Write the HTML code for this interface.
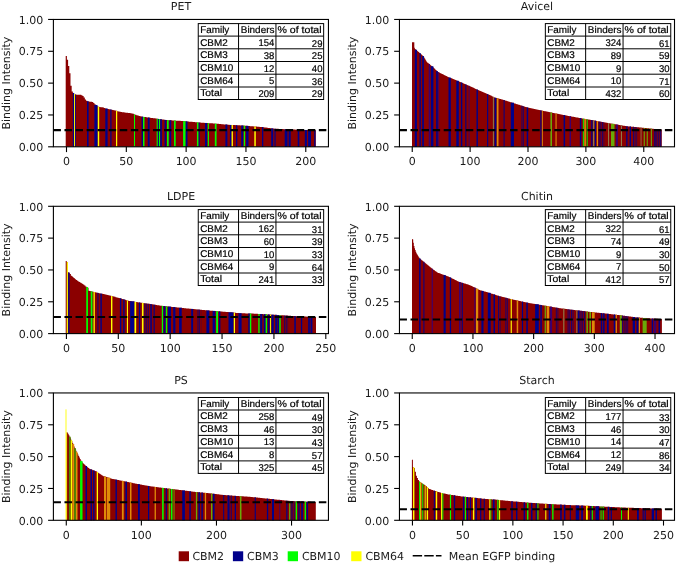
<!DOCTYPE html>
<html lang="en"><head><meta charset="utf-8"><title>Binding intensity</title>
<style>html,body{margin:0;padding:0;background:#fff;}svg{display:block;}text{font-family:"DejaVu Sans", "Liberation Sans", sans-serif;font-size:11px;fill:#1a1a1a;text-rendering:geometricPrecision;}.tb text{font-family:"Liberation Sans", "DejaVu Sans", sans-serif;font-size:9.8px;fill:#000;stroke:#000;stroke-width:0.2px;}</style></head><body>
<svg width="678" height="563" viewBox="0 0 678 563">
<rect x="0" y="0" width="678" height="563" fill="#ffffff"/>
<g><!-- PET -->
<path d="M65.7,146.8 L65.7,56 L66.9,56 L66.9,59.82 L68.09,59.82 L68.09,66.06 L69.29,66.06 L69.29,73.19 L70.49,73.19 L70.49,85.67 L71.68,85.67 L71.68,91.4 L72.88,91.4 L72.88,92.93 L74.08,92.93 L74.08,94.05 L75.27,94.05 L75.27,94.61 L76.47,94.61 L76.47,94.66 L77.67,94.66 L77.67,94.72 L78.86,94.72 L78.86,94.77 L80.06,94.77 L80.06,94.83 L81.26,94.83 L81.26,95.33 L82.45,95.33 L82.45,96 L83.65,96 L83.65,97.38 L84.85,97.38 L84.85,99.58 L86.04,99.58 L86.04,100.71 L87.24,100.71 L87.24,101.31 L88.44,101.31 L88.44,101.49 L89.63,101.49 L89.63,101.67 L90.83,101.67 L90.83,101.86 L92.03,101.86 L92.03,102.04 L93.22,102.04 L93.22,102.94 L94.42,102.94 L94.42,104.15 L95.62,104.15 L95.62,105.19 L96.81,105.19 L96.81,106.23 L98.01,106.23 L98.01,106.66 L99.21,106.66 L99.21,106.98 L100.4,106.98 L100.4,107.16 L101.6,107.16 L101.6,107.33 L102.8,107.33 L102.8,107.58 L103.99,107.58 L103.99,107.99 L105.19,107.99 L105.19,108.4 L106.39,108.4 L106.39,108.66 L107.58,108.66 L107.58,108.9 L108.78,108.9 L108.78,109.14 L109.98,109.14 L109.98,109.38 L111.17,109.38 L111.17,109.65 L112.37,109.65 L112.37,109.93 L113.57,109.93 L113.57,110.21 L114.76,110.21 L114.76,110.48 L115.96,110.48 L115.96,110.79 L117.16,110.79 L117.16,111.14 L118.35,111.14 L118.35,111.48 L119.55,111.48 L119.55,111.8 L120.75,111.8 L120.75,111.97 L121.94,111.97 L121.94,112.14 L123.14,112.14 L123.14,112.31 L124.34,112.31 L124.34,112.49 L125.53,112.49 L125.53,112.66 L126.73,112.66 L126.73,112.83 L127.93,112.83 L127.93,112.98 L129.12,112.98 L129.12,113.12 L130.32,113.12 L130.32,113.26 L131.52,113.26 L131.52,113.39 L132.71,113.39 L132.71,113.85 L133.91,113.85 L133.91,114.46 L135.11,114.46 L135.11,114.84 L136.3,114.84 L136.3,115.23 L137.5,115.23 L137.5,115.62 L138.7,115.62 L138.7,116.01 L139.89,116.01 L139.89,116.33 L141.09,116.33 L141.09,116.54 L142.29,116.54 L142.29,116.76 L143.48,116.76 L143.48,116.95 L144.68,116.95 L144.68,117.12 L145.88,117.12 L145.88,117.28 L147.07,117.28 L147.07,117.44 L148.27,117.44 L148.27,117.61 L149.47,117.61 L149.47,117.77 L150.66,117.77 L150.66,117.91 L151.86,117.91 L151.86,118.05 L153.06,118.05 L153.06,118.2 L154.25,118.2 L154.25,118.37 L155.45,118.37 L155.45,118.54 L156.65,118.54 L156.65,118.72 L157.84,118.72 L157.84,118.89 L159.04,118.89 L159.04,119.06 L160.24,119.06 L160.24,119.24 L161.43,119.24 L161.43,119.41 L162.63,119.41 L162.63,119.58 L163.83,119.58 L163.83,119.76 L165.02,119.76 L165.02,119.93 L166.22,119.93 L166.22,120.08 L167.42,120.08 L167.42,120.15 L168.61,120.15 L168.61,120.22 L169.81,120.22 L169.81,120.29 L171.01,120.29 L171.01,120.36 L172.2,120.36 L172.2,120.43 L173.4,120.43 L173.4,120.5 L174.6,120.5 L174.6,120.57 L175.79,120.57 L175.79,120.64 L176.99,120.64 L176.99,120.71 L178.19,120.71 L178.19,120.78 L179.38,120.78 L179.38,120.85 L180.58,120.85 L180.58,120.92 L181.78,120.92 L181.78,120.99 L182.97,120.99 L182.97,121.06 L184.17,121.06 L184.17,121.17 L185.37,121.17 L185.37,121.28 L186.56,121.28 L186.56,121.4 L187.76,121.4 L187.76,121.51 L188.96,121.51 L188.96,121.63 L190.15,121.63 L190.15,121.74 L191.35,121.74 L191.35,121.86 L192.54,121.86 L192.54,121.97 L193.74,121.97 L193.74,122.09 L194.94,122.09 L194.94,122.2 L196.13,122.2 L196.13,122.32 L197.33,122.32 L197.33,122.43 L198.53,122.43 L198.53,122.52 L199.72,122.52 L199.72,122.6 L200.92,122.6 L200.92,122.68 L202.12,122.68 L202.12,122.75 L203.31,122.75 L203.31,122.83 L204.51,122.83 L204.51,122.91 L205.71,122.91 L205.71,122.98 L206.9,122.98 L206.9,123.06 L208.1,123.06 L208.1,123.14 L209.3,123.14 L209.3,123.21 L210.49,123.21 L210.49,123.29 L211.69,123.29 L211.69,123.37 L212.89,123.37 L212.89,123.44 L214.08,123.44 L214.08,123.53 L215.28,123.53 L215.28,123.64 L216.48,123.64 L216.48,123.74 L217.67,123.74 L217.67,123.85 L218.87,123.85 L218.87,123.96 L220.07,123.96 L220.07,124.06 L221.26,124.06 L221.26,124.17 L222.46,124.17 L222.46,124.28 L223.66,124.28 L223.66,124.38 L224.85,124.38 L224.85,124.49 L226.05,124.49 L226.05,124.6 L227.25,124.6 L227.25,124.7 L228.44,124.7 L228.44,124.81 L229.64,124.81 L229.64,124.91 L230.84,124.91 L230.84,124.96 L232.03,124.96 L232.03,125.02 L233.23,125.02 L233.23,125.07 L234.43,125.07 L234.43,125.12 L235.62,125.12 L235.62,125.18 L236.82,125.18 L236.82,125.23 L238.02,125.23 L238.02,125.29 L239.21,125.29 L239.21,125.34 L240.41,125.34 L240.41,125.4 L241.61,125.4 L241.61,125.48 L242.8,125.48 L242.8,125.58 L244,125.58 L244,125.67 L245.2,125.67 L245.2,125.77 L246.39,125.77 L246.39,125.86 L247.59,125.86 L247.59,125.95 L248.79,125.95 L248.79,126.05 L249.98,126.05 L249.98,126.14 L251.18,126.14 L251.18,126.24 L252.38,126.24 L252.38,126.33 L253.57,126.33 L253.57,126.42 L254.77,126.42 L254.77,126.52 L255.97,126.52 L255.97,126.61 L257.16,126.61 L257.16,126.7 L258.36,126.7 L258.36,126.8 L259.56,126.8 L259.56,126.89 L260.75,126.89 L260.75,126.99 L261.95,126.99 L261.95,127.09 L263.15,127.09 L263.15,127.25 L264.34,127.25 L264.34,127.41 L265.54,127.41 L265.54,127.58 L266.74,127.58 L266.74,127.74 L267.93,127.74 L267.93,127.9 L269.13,127.9 L269.13,128.06 L270.33,128.06 L270.33,128.22 L271.52,128.22 L271.52,128.38 L272.72,128.38 L272.72,128.54 L273.92,128.54 L273.92,128.63 L275.11,128.63 L275.11,128.7 L276.31,128.7 L276.31,128.76 L277.51,128.76 L277.51,128.83 L278.7,128.83 L278.7,128.9 L279.9,128.9 L279.9,128.96 L281.1,128.96 L281.1,129.03 L282.29,129.03 L282.29,129.09 L283.49,129.09 L283.49,129.16 L284.69,129.16 L284.69,129.22 L285.88,129.22 L285.88,129.29 L287.08,129.29 L287.08,129.35 L288.28,129.35 L288.28,129.42 L289.47,129.42 L289.47,129.48 L290.67,129.48 L290.67,129.52 L291.87,129.52 L291.87,129.55 L293.06,129.55 L293.06,129.59 L294.26,129.59 L294.26,129.62 L295.46,129.62 L295.46,129.66 L296.65,129.66 L296.65,129.7 L297.85,129.7 L297.85,129.73 L299.05,129.73 L299.05,129.77 L300.24,129.77 L300.24,129.8 L301.44,129.8 L301.44,129.84 L302.64,129.84 L302.64,129.87 L303.83,129.87 L303.83,129.91 L305.03,129.91 L305.03,129.94 L306.23,129.94 L306.23,129.98 L307.42,129.98 L307.42,130.01 L308.62,130.01 L308.62,130.05 L309.82,130.05 L309.82,130.09 L311.01,130.09 L311.01,130.12 L312.21,130.12 L312.21,130.16 L313.41,130.16 L313.41,130.19 L314.6,130.19 L314.6,130.23 L315.8,130.23 L315.8,146.8Z" fill="#8B0000"/>
<rect x="72.8" y="92.95" width="1.4" height="53.85" fill="#00008B"/>
<rect x="74.08" y="93.99" width="1.04" height="52.81" fill="#FFFF00"/>
<rect x="75.2" y="94.6" width="0.8" height="52.2" fill="#00008B"/>
<rect x="87" y="101.3" width="1.6" height="45.5" fill="#00008B"/>
<rect x="94.4" y="104.96" width="3.1" height="41.84" fill="#00008B"/>
<rect x="97.8" y="106.62" width="1.39" height="40.18" fill="#FFFF00"/>
<rect x="105.3" y="108.56" width="2.3" height="38.24" fill="#00008B"/>
<rect x="110.3" y="109.45" width="1.2" height="37.35" fill="#00008B"/>
<rect x="115.99" y="110.8" width="1.22" height="36" fill="#FFFF00"/>
<rect x="133.98" y="114.45" width="1.04" height="32.35" fill="#00FF00"/>
<rect x="141.6" y="116.65" width="1.3" height="30.15" fill="#00008B"/>
<rect x="143.01" y="116.91" width="1.48" height="29.89" fill="#00FF00"/>
<rect x="147.8" y="117.59" width="1.8" height="29.21" fill="#00008B"/>
<rect x="156.68" y="118.72" width="1.13" height="28.08" fill="#00FF00"/>
<rect x="157.9" y="118.88" width="1" height="27.92" fill="#00008B"/>
<rect x="158.98" y="119.05" width="1.13" height="27.75" fill="#00FF00"/>
<rect x="160.2" y="119.27" width="1.7" height="27.53" fill="#00008B"/>
<rect x="164.6" y="119.9" width="1.6" height="26.9" fill="#00008B"/>
<rect x="167.02" y="120.14" width="1.65" height="26.66" fill="#00FF00"/>
<rect x="169.5" y="120.28" width="1.7" height="26.52" fill="#00008B"/>
<rect x="174.02" y="120.55" width="1.65" height="26.25" fill="#00FF00"/>
<rect x="183.09" y="121.13" width="2.52" height="25.67" fill="#00FF00"/>
<rect x="185.8" y="121.35" width="1.7" height="25.45" fill="#00008B"/>
<rect x="196.92" y="122.41" width="1.65" height="24.39" fill="#00FF00"/>
<rect x="198.7" y="122.53" width="1" height="24.27" fill="#00008B"/>
<rect x="205" y="122.96" width="2" height="23.84" fill="#00008B"/>
<rect x="207.78" y="123.11" width="1.13" height="23.69" fill="#00FF00"/>
<rect x="214.83" y="123.62" width="1.74" height="23.18" fill="#00FF00"/>
<rect x="225.4" y="124.57" width="2" height="22.23" fill="#00008B"/>
<rect x="229.9" y="124.93" width="1.6" height="21.87" fill="#00008B"/>
<rect x="231.6" y="125" width="1.31" height="21.8" fill="#FFFF00"/>
<rect x="236" y="125.2" width="1.3" height="21.6" fill="#00008B"/>
<rect x="241.2" y="125.48" width="2" height="21.32" fill="#00008B"/>
<rect x="243.8" y="125.66" width="1.31" height="21.14" fill="#00FF00"/>
<rect x="246.1" y="125.88" width="2.4" height="20.92" fill="#00008B"/>
<rect x="254.31" y="126.49" width="1.48" height="20.31" fill="#FFFF00"/>
<rect x="262" y="127.11" width="1.3" height="19.69" fill="#00008B"/>
<rect x="271.2" y="128.39" width="2" height="18.41" fill="#00008B"/>
<rect x="274.5" y="128.66" width="1.1" height="18.14" fill="#00008B"/>
<rect x="284.7" y="129.27" width="2.8" height="17.53" fill="#00008B"/>
<rect x="288.6" y="129.46" width="2.1" height="17.34" fill="#00008B"/>
<rect x="297.7" y="129.73" width="1.6" height="17.07" fill="#00008B"/>
<rect x="304.8" y="129.95" width="2.1" height="16.85" fill="#00008B"/>
<rect x="308.1" y="130.06" width="2.9" height="16.74" fill="#00008B"/>
<rect x="314.2" y="130.22" width="1.3" height="16.58" fill="#00008B"/>
<line x1="53.4" y1="130.12" x2="328.45" y2="130.12" stroke="#000" stroke-width="2.05" stroke-dasharray="7.5 3.56"/>
<rect x="53.4" y="19.45" width="275.05" height="127.35" fill="none" stroke="#000" stroke-width="1.1"/>
<line x1="48.1" y1="19.45" x2="53.4" y2="19.45" stroke="#000" stroke-width="1.1"/>
<text x="43.3" y="23.65" text-anchor="end">1.00</text>
<line x1="48.1" y1="51.29" x2="53.4" y2="51.29" stroke="#000" stroke-width="1.1"/>
<text x="43.3" y="55.49" text-anchor="end">0.75</text>
<line x1="48.1" y1="83.12" x2="53.4" y2="83.12" stroke="#000" stroke-width="1.1"/>
<text x="43.3" y="87.33" text-anchor="end">0.50</text>
<line x1="48.1" y1="114.96" x2="53.4" y2="114.96" stroke="#000" stroke-width="1.1"/>
<text x="43.3" y="119.16" text-anchor="end">0.25</text>
<line x1="48.1" y1="146.8" x2="53.4" y2="146.8" stroke="#000" stroke-width="1.1"/>
<text x="43.3" y="151" text-anchor="end">0.00</text>
<line x1="66.5" y1="146.8" x2="66.5" y2="152.1" stroke="#000" stroke-width="1.1"/>
<text x="66.5" y="165.2" text-anchor="middle">0</text>
<line x1="126.32" y1="146.8" x2="126.32" y2="152.1" stroke="#000" stroke-width="1.1"/>
<text x="126.32" y="165.2" text-anchor="middle">50</text>
<line x1="186.14" y1="146.8" x2="186.14" y2="152.1" stroke="#000" stroke-width="1.1"/>
<text x="186.14" y="165.2" text-anchor="middle">100</text>
<line x1="245.96" y1="146.8" x2="245.96" y2="152.1" stroke="#000" stroke-width="1.1"/>
<text x="245.96" y="165.2" text-anchor="middle">150</text>
<line x1="305.78" y1="146.8" x2="305.78" y2="152.1" stroke="#000" stroke-width="1.1"/>
<text x="305.78" y="165.2" text-anchor="middle">200</text>
<text transform="translate(9.9,83.12) rotate(-90)" text-anchor="middle">Binding Intensity</text>
<text x="181" y="10.4" text-anchor="middle">PET</text>
<g class="tb">
<rect x="198.25" y="23.6" width="125.4" height="75.9" fill="#fff" stroke="#000" stroke-width="1"/>
<line x1="198.25" y1="36.1" x2="323.65" y2="36.1" stroke="#000" stroke-width="1"/>
<line x1="198.25" y1="48.8" x2="323.65" y2="48.8" stroke="#000" stroke-width="1"/>
<line x1="198.25" y1="61.5" x2="323.65" y2="61.5" stroke="#000" stroke-width="1"/>
<line x1="198.25" y1="74.2" x2="323.65" y2="74.2" stroke="#000" stroke-width="1"/>
<line x1="198.25" y1="87" x2="323.65" y2="87" stroke="#000" stroke-width="1"/>
<line x1="238.55" y1="23.6" x2="238.55" y2="99.5" stroke="#000" stroke-width="1"/>
<line x1="275.95" y1="23.6" x2="275.95" y2="99.5" stroke="#000" stroke-width="1"/>
<text transform="translate(200.15,32.8) scale(1.01,1)">Family</text>
<text transform="translate(240.75,32.8) scale(1.015,1)">Binders</text>
<text transform="translate(277.45,32.8) scale(1.08,1)">% of total</text>
<text transform="translate(200.15,45.5) scale(1.01,1)">CBM2</text>
<text transform="translate(274.25,46.1) scale(0.97,1)" text-anchor="end">154</text>
<text transform="translate(322.45,46.7) scale(0.97,1)" text-anchor="end">29</text>
<text transform="translate(200.15,58.2) scale(1.01,1)">CBM3</text>
<text transform="translate(274.25,58.8) scale(0.97,1)" text-anchor="end">38</text>
<text transform="translate(322.45,59.4) scale(0.97,1)" text-anchor="end">25</text>
<text transform="translate(200.15,70.9) scale(1.01,1)">CBM10</text>
<text transform="translate(274.25,71.5) scale(0.97,1)" text-anchor="end">12</text>
<text transform="translate(322.45,72.1) scale(0.97,1)" text-anchor="end">40</text>
<text transform="translate(200.15,83.7) scale(1.01,1)">CBM64</text>
<text transform="translate(274.25,84.3) scale(0.97,1)" text-anchor="end">5</text>
<text transform="translate(322.45,84.9) scale(0.97,1)" text-anchor="end">36</text>
<text transform="translate(200.15,96) scale(1.06,1)">Total</text>
<text transform="translate(274.25,96.6) scale(0.97,1)" text-anchor="end">209</text>
<text transform="translate(322.45,97.2) scale(0.97,1)" text-anchor="end">29</text>
</g>
</g>
<g><!-- Avicel -->
<path d="M412,146.8 L412,42.25 L412.58,42.25 L412.58,42.25 L413.16,42.25 L413.16,42.25 L413.73,42.25 L413.73,42.25 L414.31,42.25 L414.31,47.87 L414.89,47.87 L414.89,49.01 L415.47,49.01 L415.47,49.62 L416.05,49.62 L416.05,50.1 L416.63,50.1 L416.63,50.57 L417.2,50.57 L417.2,51.04 L417.78,51.04 L417.78,51.51 L418.36,51.51 L418.36,51.99 L418.94,51.99 L418.94,52.46 L419.52,52.46 L419.52,52.93 L420.1,52.93 L420.1,53.4 L420.67,53.4 L420.67,53.94 L421.25,53.94 L421.25,54.52 L421.83,54.52 L421.83,55.09 L422.41,55.09 L422.41,55.67 L422.99,55.67 L422.99,56.24 L423.56,56.24 L423.56,56.85 L424.14,56.85 L424.14,57.82 L424.72,57.82 L424.72,58.79 L425.3,58.79 L425.3,59.75 L425.88,59.75 L425.88,60.72 L426.46,60.72 L426.46,61.69 L427.03,61.69 L427.03,62.38 L427.61,62.38 L427.61,62.85 L428.19,62.85 L428.19,63.32 L428.77,63.32 L428.77,63.79 L429.35,63.79 L429.35,64.26 L429.93,64.26 L429.93,64.73 L430.5,64.73 L430.5,65.21 L431.08,65.21 L431.08,65.68 L431.66,65.68 L431.66,66.15 L432.24,66.15 L432.24,66.62 L432.82,66.62 L432.82,67.09 L433.39,67.09 L433.39,67.63 L433.97,67.63 L433.97,68.22 L434.55,68.22 L434.55,68.82 L435.13,68.82 L435.13,69.41 L435.71,69.41 L435.71,70.01 L436.29,70.01 L436.29,70.61 L436.86,70.61 L436.86,71.2 L437.44,71.2 L437.44,71.73 L438.02,71.73 L438.02,72.02 L438.6,72.02 L438.6,72.31 L439.18,72.31 L439.18,72.6 L439.76,72.6 L439.76,72.89 L440.33,72.89 L440.33,73.17 L440.91,73.17 L440.91,73.46 L441.49,73.46 L441.49,73.75 L442.07,73.75 L442.07,74.04 L442.65,74.04 L442.65,74.33 L443.22,74.33 L443.23,74.62 L443.8,74.62 L443.8,74.91 L444.38,74.91 L444.38,75.2 L444.96,75.2 L444.96,75.49 L445.54,75.49 L445.54,75.78 L446.12,75.78 L446.12,76.07 L446.69,76.07 L446.69,76.35 L447.27,76.35 L447.27,76.64 L447.85,76.64 L447.85,76.93 L448.43,76.93 L448.43,77.18 L449.01,77.18 L449.01,77.42 L449.59,77.42 L449.59,77.65 L450.16,77.65 L450.16,77.88 L450.74,77.88 L450.74,78.12 L451.32,78.12 L451.32,78.35 L451.9,78.35 L451.9,78.59 L452.48,78.59 L452.48,78.82 L453.06,78.82 L453.06,79.05 L453.63,79.05 L453.63,79.29 L454.21,79.29 L454.21,79.52 L454.79,79.52 L454.79,79.76 L455.37,79.76 L455.37,79.99 L455.95,79.99 L455.95,80.22 L456.52,80.22 L456.52,80.46 L457.1,80.46 L457.1,80.69 L457.68,80.69 L457.68,80.93 L458.26,80.93 L458.26,81.16 L458.84,81.16 L458.84,81.4 L459.42,81.4 L459.42,81.66 L459.99,81.66 L459.99,81.91 L460.57,81.91 L460.57,82.17 L461.15,82.17 L461.15,82.43 L461.73,82.43 L461.73,82.68 L462.31,82.68 L462.31,82.94 L462.89,82.94 L462.89,83.2 L463.46,83.2 L463.46,83.45 L464.04,83.45 L464.04,83.71 L464.62,83.71 L464.62,83.97 L465.2,83.97 L465.2,84.23 L465.78,84.23 L465.78,84.48 L466.35,84.48 L466.35,84.74 L466.93,84.74 L466.93,85 L467.51,85 L467.51,85.25 L468.09,85.25 L468.09,85.51 L468.67,85.51 L468.67,85.77 L469.25,85.77 L469.25,86.03 L469.82,86.03 L469.82,86.29 L470.4,86.29 L470.4,86.55 L470.98,86.55 L470.98,86.81 L471.56,86.81 L471.56,87.07 L472.14,87.07 L472.14,87.33 L472.72,87.33 L472.72,87.59 L473.29,87.59 L473.29,87.86 L473.87,87.86 L473.87,88.12 L474.45,88.12 L474.45,88.38 L475.03,88.38 L475.03,88.64 L475.61,88.64 L475.61,88.9 L476.18,88.9 L476.18,89.16 L476.76,89.16 L476.76,89.42 L477.34,89.42 L477.34,89.69 L477.92,89.69 L477.92,89.95 L478.5,89.95 L478.5,90.21 L479.08,90.21 L479.08,90.47 L479.65,90.47 L479.65,90.73 L480.23,90.73 L480.23,91 L480.81,91 L480.81,91.26 L481.39,91.26 L481.39,91.53 L481.97,91.53 L481.97,91.79 L482.55,91.79 L482.55,92.06 L483.12,92.06 L483.12,92.33 L483.7,92.33 L483.7,92.59 L484.28,92.59 L484.28,92.86 L484.86,92.86 L484.86,93.12 L485.44,93.12 L485.44,93.35 L486.01,93.35 L486.01,93.59 L486.59,93.59 L486.59,93.83 L487.17,93.83 L487.17,94.06 L487.75,94.06 L487.75,94.3 L488.33,94.3 L488.33,94.54 L488.91,94.54 L488.91,94.77 L489.48,94.77 L489.48,95.01 L490.06,95.01 L490.06,95.25 L490.64,95.25 L490.64,95.55 L491.22,95.55 L491.22,95.85 L491.8,95.85 L491.8,96.14 L492.38,96.14 L492.38,96.44 L492.95,96.44 L492.95,96.74 L493.53,96.74 L493.53,97.04 L494.11,97.04 L494.11,97.33 L494.69,97.33 L494.69,97.63 L495.27,97.63 L495.27,97.78 L495.84,97.78 L495.84,97.93 L496.42,97.93 L496.42,98.08 L497,98.08 L497,98.23 L497.58,98.23 L497.58,98.37 L498.16,98.37 L498.16,98.52 L498.74,98.52 L498.74,98.67 L499.31,98.67 L499.31,98.82 L499.89,98.82 L499.89,98.96 L500.47,98.96 L500.47,99.11 L501.05,99.11 L501.05,99.26 L501.63,99.26 L501.63,99.4 L502.21,99.4 L502.21,99.55 L502.78,99.55 L502.78,99.7 L503.36,99.7 L503.36,99.89 L503.94,99.89 L503.94,100.08 L504.52,100.08 L504.52,100.26 L505.1,100.26 L505.1,100.45 L505.67,100.45 L505.67,100.64 L506.25,100.64 L506.25,100.83 L506.83,100.83 L506.83,101.01 L507.41,101.01 L507.41,101.2 L507.99,101.2 L507.99,101.39 L508.57,101.39 L508.57,101.57 L509.14,101.57 L509.14,101.76 L509.72,101.76 L509.72,101.94 L510.3,101.94 L510.3,102.13 L510.88,102.13 L510.88,102.31 L511.46,102.31 L511.46,102.49 L512.04,102.49 L512.04,102.68 L512.61,102.68 L512.61,102.86 L513.19,102.86 L513.19,103.04 L513.77,103.04 L513.77,103.23 L514.35,103.23 L514.35,103.41 L514.93,103.41 L514.93,103.59 L515.51,103.59 L515.51,103.77 L516.08,103.77 L516.08,103.96 L516.66,103.96 L516.66,104.14 L517.24,104.14 L517.24,104.32 L517.82,104.32 L517.82,104.51 L518.4,104.51 L518.4,104.69 L518.97,104.69 L518.97,104.87 L519.55,104.87 L519.55,105.06 L520.13,105.06 L520.13,105.24 L520.71,105.24 L520.71,105.42 L521.29,105.42 L521.29,105.61 L521.87,105.61 L521.87,105.79 L522.44,105.79 L522.44,105.97 L523.02,105.97 L523.02,106.15 L523.6,106.15 L523.6,106.34 L524.18,106.34 L524.18,106.52 L524.76,106.52 L524.76,106.7 L525.34,106.7 L525.34,106.89 L525.91,106.89 L525.91,107.07 L526.49,107.07 L526.49,107.25 L527.07,107.25 L527.07,107.44 L527.65,107.44 L527.65,107.56 L528.23,107.56 L528.23,107.69 L528.8,107.69 L528.8,107.81 L529.38,107.81 L529.38,107.94 L529.96,107.94 L529.96,108.06 L530.54,108.06 L530.54,108.19 L531.12,108.19 L531.12,108.31 L531.7,108.31 L531.7,108.44 L532.27,108.44 L532.27,108.56 L532.85,108.56 L532.85,108.69 L533.43,108.69 L533.43,108.81 L534.01,108.81 L534.01,108.94 L534.59,108.94 L534.59,109.06 L535.17,109.06 L535.17,109.19 L535.74,109.19 L535.74,109.31 L536.32,109.31 L536.32,109.44 L536.9,109.44 L536.9,109.56 L537.48,109.56 L537.48,109.69 L538.06,109.69 L538.06,109.81 L538.63,109.81 L538.63,109.94 L539.21,109.94 L539.21,110.06 L539.79,110.06 L539.79,110.18 L540.37,110.18 L540.37,110.3 L540.95,110.3 L540.95,110.42 L541.53,110.42 L541.53,110.54 L542.1,110.54 L542.1,110.66 L542.68,110.66 L542.68,110.77 L543.26,110.77 L543.26,110.89 L543.84,110.89 L543.84,111.01 L544.42,111.01 L544.42,111.13 L545,111.13 L545,111.25 L545.57,111.25 L545.57,111.37 L546.15,111.37 L546.15,111.49 L546.73,111.49 L546.73,111.61 L547.31,111.61 L547.31,111.73 L547.89,111.73 L547.89,111.85 L548.46,111.85 L548.46,111.97 L549.04,111.97 L549.04,112.09 L549.62,112.09 L549.62,112.21 L550.2,112.21 L550.2,112.33 L550.78,112.33 L550.78,112.45 L551.36,112.45 L551.36,112.57 L551.93,112.57 L551.93,112.69 L552.51,112.69 L552.51,112.8 L553.09,112.8 L553.09,112.92 L553.67,112.92 L553.67,113.04 L554.25,113.04 L554.25,113.16 L554.83,113.16 L554.83,113.27 L555.4,113.27 L555.4,113.39 L555.98,113.39 L555.98,113.5 L556.56,113.5 L556.56,113.62 L557.14,113.62 L557.14,113.74 L557.72,113.74 L557.72,113.85 L558.29,113.85 L558.29,113.97 L558.87,113.97 L558.87,114.08 L559.45,114.08 L559.45,114.2 L560.03,114.2 L560.03,114.31 L560.61,114.31 L560.61,114.43 L561.19,114.43 L561.19,114.54 L561.76,114.54 L561.76,114.66 L562.34,114.66 L562.34,114.77 L562.92,114.77 L562.92,114.89 L563.5,114.89 L563.5,115 L564.08,115 L564.08,115.12 L564.66,115.12 L564.66,115.23 L565.23,115.23 L565.23,115.35 L565.81,115.35 L565.81,115.46 L566.39,115.46 L566.39,115.58 L566.97,115.58 L566.97,115.69 L567.55,115.69 L567.55,115.81 L568.12,115.81 L568.12,115.92 L568.7,115.92 L568.7,116.03 L569.28,116.03 L569.28,116.14 L569.86,116.14 L569.86,116.24 L570.44,116.24 L570.44,116.35 L571.02,116.35 L571.02,116.45 L571.59,116.45 L571.59,116.56 L572.17,116.56 L572.17,116.66 L572.75,116.66 L572.75,116.77 L573.33,116.77 L573.33,116.87 L573.91,116.87 L573.91,116.97 L574.49,116.97 L574.49,117.08 L575.06,117.08 L575.06,117.18 L575.64,117.18 L575.64,117.29 L576.22,117.29 L576.22,117.39 L576.8,117.39 L576.8,117.5 L577.38,117.5 L577.38,117.6 L577.96,117.6 L577.96,117.71 L578.53,117.71 L578.53,117.81 L579.11,117.81 L579.11,117.91 L579.69,117.91 L579.69,118.02 L580.27,118.02 L580.27,118.12 L580.85,118.12 L580.85,118.23 L581.42,118.23 L581.42,118.33 L582,118.33 L582,118.44 L582.58,118.44 L582.58,118.54 L583.16,118.54 L583.16,118.65 L583.74,118.65 L583.74,118.74 L584.32,118.74 L584.32,118.84 L584.89,118.84 L584.89,118.94 L585.47,118.94 L585.47,119.03 L586.05,119.03 L586.05,119.13 L586.63,119.13 L586.63,119.22 L587.21,119.22 L587.21,119.32 L587.79,119.32 L587.79,119.42 L588.36,119.42 L588.36,119.51 L588.94,119.51 L588.94,119.61 L589.52,119.61 L589.52,119.7 L590.1,119.7 L590.1,119.8 L590.68,119.8 L590.68,119.9 L591.25,119.9 L591.25,119.99 L591.83,119.99 L591.83,120.09 L592.41,120.09 L592.41,120.18 L592.99,120.18 L592.99,120.28 L593.57,120.28 L593.57,120.38 L594.15,120.38 L594.15,120.47 L594.72,120.47 L594.72,120.57 L595.3,120.57 L595.3,120.69 L595.88,120.69 L595.88,120.81 L596.46,120.81 L596.46,120.93 L597.04,120.93 L597.04,121.05 L597.62,121.05 L597.62,121.17 L598.19,121.17 L598.19,121.29 L598.77,121.29 L598.77,121.39 L599.35,121.39 L599.35,121.5 L599.93,121.5 L599.93,121.6 L600.51,121.6 L600.51,121.7 L601.08,121.7 L601.08,121.8 L601.66,121.8 L601.66,121.9 L602.24,121.9 L602.24,122.01 L602.82,122.01 L602.82,122.11 L603.4,122.11 L603.4,122.21 L603.98,122.21 L603.98,122.31 L604.55,122.31 L604.55,122.42 L605.13,122.42 L605.13,122.52 L605.71,122.52 L605.71,122.62 L606.29,122.62 L606.29,122.72 L606.87,122.72 L606.87,122.82 L607.45,122.82 L607.45,122.93 L608.02,122.93 L608.02,123.03 L608.6,123.03 L608.6,123.13 L609.18,123.13 L609.18,123.23 L609.76,123.23 L609.76,123.33 L610.34,123.33 L610.34,123.44 L610.91,123.44 L610.91,123.54 L611.49,123.54 L611.49,123.64 L612.07,123.64 L612.07,123.74 L612.65,123.74 L612.65,123.84 L613.23,123.84 L613.23,123.95 L613.81,123.95 L613.81,124.05 L614.38,124.05 L614.38,124.15 L614.96,124.15 L614.96,124.25 L615.54,124.25 L615.54,124.35 L616.12,124.35 L616.12,124.45 L616.7,124.45 L616.7,124.55 L617.28,124.55 L617.28,124.66 L617.85,124.66 L617.85,124.76 L618.43,124.76 L618.43,124.86 L619.01,124.86 L619.01,124.96 L619.59,124.96 L619.59,125.06 L620.17,125.06 L620.17,125.16 L620.74,125.16 L620.74,125.26 L621.32,125.26 L621.32,125.36 L621.9,125.36 L621.9,125.47 L622.48,125.47 L622.48,125.57 L623.06,125.57 L623.06,125.67 L623.64,125.67 L623.64,125.77 L624.21,125.77 L624.21,125.87 L624.79,125.87 L624.79,125.97 L625.37,125.97 L625.37,126.07 L625.95,126.07 L625.95,126.17 L626.53,126.17 L626.53,126.23 L627.11,126.23 L627.11,126.28 L627.68,126.28 L627.68,126.33 L628.26,126.33 L628.26,126.39 L628.84,126.39 L628.84,126.44 L629.42,126.44 L629.42,126.5 L630,126.5 L630,126.55 L630.57,126.55 L630.57,126.6 L631.15,126.6 L631.15,126.66 L631.73,126.66 L631.73,126.71 L632.31,126.71 L632.31,126.76 L632.89,126.76 L632.89,126.82 L633.47,126.82 L633.47,126.87 L634.04,126.87 L634.04,126.93 L634.62,126.93 L634.62,126.98 L635.2,126.98 L635.2,127.03 L635.78,127.03 L635.78,127.09 L636.36,127.09 L636.36,127.14 L636.94,127.14 L636.94,127.19 L637.51,127.19 L637.51,127.25 L638.09,127.25 L638.09,127.3 L638.67,127.3 L638.67,127.36 L639.25,127.36 L639.25,127.41 L639.83,127.41 L639.83,127.46 L640.41,127.46 L640.41,127.52 L640.98,127.52 L640.98,127.58 L641.56,127.58 L641.56,127.64 L642.14,127.64 L642.14,127.7 L642.72,127.7 L642.72,127.76 L643.3,127.76 L643.3,127.82 L643.87,127.82 L643.87,127.88 L644.45,127.88 L644.45,127.94 L645.03,127.94 L645.03,128 L645.61,128 L645.61,128.06 L646.19,128.06 L646.19,128.12 L646.77,128.12 L646.77,128.17 L647.34,128.17 L647.34,128.23 L647.92,128.23 L647.92,128.29 L648.5,128.29 L648.5,128.35 L649.08,128.35 L649.08,128.41 L649.66,128.41 L649.66,128.47 L650.24,128.47 L650.24,128.53 L650.81,128.53 L650.81,128.59 L651.39,128.59 L651.39,128.65 L651.97,128.65 L651.97,128.71 L652.55,128.71 L652.55,128.77 L653.13,128.77 L653.13,128.82 L653.7,128.82 L653.7,128.88 L654.28,128.88 L654.28,128.93 L654.86,128.93 L654.86,128.99 L655.44,128.99 L655.44,129.04 L656.02,129.04 L656.02,129.1 L656.6,129.1 L656.6,129.15 L657.17,129.15 L657.17,129.2 L657.75,129.2 L657.75,129.26 L658.33,129.26 L658.33,129.31 L658.91,129.31 L658.91,129.37 L659.49,129.37 L659.49,129.42 L660.07,129.42 L660.07,129.47 L660.64,129.47 L660.64,129.53 L661.22,129.53 L661.22,129.58 L661.8,129.58 L661.8,146.8Z" fill="#8B0000"/>
<rect x="414.8" y="49.7" width="2.1" height="97.1" fill="#00008B"/>
<rect x="419.5" y="53.21" width="1.3" height="93.59" fill="#00008B"/>
<rect x="422.2" y="56.02" width="1.7" height="90.78" fill="#00008B"/>
<rect x="428.7" y="64.03" width="1.3" height="82.77" fill="#3c0070"/>
<rect x="430.8" y="66.27" width="2.6" height="80.53" fill="#00008B"/>
<rect x="436.1" y="70.99" width="1.7" height="75.81" fill="#00008B"/>
<rect x="438.3" y="72.21" width="0.8" height="74.59" fill="#3c0070"/>
<rect x="448.5" y="77.56" width="2.3" height="69.24" fill="#00008B"/>
<rect x="456.3" y="80.76" width="2.5" height="66.04" fill="#00008B"/>
<rect x="460.9" y="82.5" width="1.4" height="64.3" fill="#00008B"/>
<rect x="465.3" y="84.39" width="1.1" height="62.41" fill="#00008B"/>
<rect x="468.6" y="85.81" width="0.9" height="60.99" fill="#3c0070"/>
<rect x="476.5" y="89.49" width="1.4" height="57.31" fill="#00008B"/>
<rect x="487.1" y="94.14" width="1.1" height="52.66" fill="#00008B"/>
<rect x="492.9" y="96.82" width="1" height="49.98" fill="#907848"/>
<rect x="494.6" y="97.77" width="1.8" height="49.03" fill="#00008B"/>
<rect x="496.8" y="98.32" width="1.7" height="48.48" fill="#E08A08"/>
<rect x="503.6" y="100.04" width="1" height="46.76" fill="#00008B"/>
<rect x="510.8" y="102.7" width="3.2" height="44.1" fill="#00008B"/>
<rect x="521.5" y="105.74" width="1" height="41.06" fill="#00008B" fill-opacity="0.8"/>
<rect x="523.2" y="106.25" width="0.8" height="40.55" fill="#00008B" fill-opacity="0.8"/>
<rect x="526.7" y="107.46" width="1.5" height="39.34" fill="#00008B"/>
<rect x="540.4" y="110.36" width="1.1" height="36.44" fill="#00008B"/>
<rect x="541.9" y="110.65" width="0.9" height="36.15" fill="#E08A08"/>
<rect x="550.4" y="112.47" width="1.6" height="34.33" fill="#6aa808"/>
<rect x="555.5" y="113.46" width="1.1" height="33.34" fill="#E08A08"/>
<rect x="563.6" y="115.11" width="1.5" height="31.69" fill="#00008B"/>
<rect x="569.5" y="116.26" width="1.5" height="30.54" fill="#3c0070"/>
<rect x="579.8" y="118.12" width="1.5" height="28.68" fill="#00008B"/>
<rect x="582.87" y="118.63" width="0.96" height="28.17" fill="#00FF00"/>
<rect x="584.3" y="118.92" width="1.6" height="27.88" fill="#E08A08"/>
<rect x="586.67" y="119.26" width="0.96" height="27.54" fill="#00FF00"/>
<rect x="591.2" y="120.04" width="1.3" height="26.76" fill="#00008B"/>
<rect x="593" y="120.34" width="1.3" height="26.46" fill="#907848"/>
<rect x="594.9" y="120.66" width="1.1" height="26.14" fill="#00008B"/>
<rect x="596.8" y="121.06" width="1.2" height="25.74" fill="#E08A08"/>
<rect x="598.7" y="121.42" width="1" height="25.38" fill="#00008B" fill-opacity="0.8"/>
<rect x="600.4" y="121.7" width="0.8" height="25.1" fill="#00008B" fill-opacity="0.8"/>
<rect x="602.1" y="122.04" width="1.2" height="24.76" fill="#00008B" fill-opacity="0.8"/>
<rect x="603.9" y="122.27" width="0.3" height="24.53" fill="#00008B" fill-opacity="0.8"/>
<rect x="608" y="123.07" width="1.1" height="23.73" fill="#907848"/>
<rect x="611" y="123.81" width="3.5" height="22.99" fill="#6aa808"/>
<rect x="615.9" y="124.54" width="2" height="22.26" fill="#3c0070"/>
<rect x="620.9" y="125.34" width="1.1" height="21.46" fill="#907848"/>
<rect x="626.2" y="126.23" width="1.3" height="20.57" fill="#00008B"/>
<rect x="629.6" y="126.55" width="1.4" height="20.25" fill="#00008B"/>
<rect x="633" y="126.85" width="1" height="19.95" fill="#00008B" fill-opacity="0.8"/>
<rect x="634.7" y="127" width="0.8" height="19.8" fill="#00008B" fill-opacity="0.8"/>
<rect x="636.4" y="127.15" width="0.7" height="19.65" fill="#00008B" fill-opacity="0.8"/>
<rect x="640.6" y="127.56" width="0.9" height="19.24" fill="#907848"/>
<rect x="643.7" y="127.89" width="1.1" height="18.91" fill="#6aa808"/>
<rect x="646.7" y="128.19" width="1.1" height="18.61" fill="#6aa808"/>
<rect x="650.8" y="128.61" width="1.1" height="18.19" fill="#6aa808"/>
<rect x="654.3" y="128.97" width="1.3" height="17.83" fill="#00008B"/>
<rect x="656.3" y="129.14" width="1" height="17.66" fill="#00008B" fill-opacity="0.8"/>
<rect x="658" y="129.29" width="0.8" height="17.51" fill="#00008B" fill-opacity="0.8"/>
<rect x="659.7" y="129.47" width="1.2" height="17.33" fill="#00008B" fill-opacity="0.8"/>
<rect x="661.5" y="129.59" width="0.3" height="17.21" fill="#00008B" fill-opacity="0.8"/>
<line x1="399.45" y1="130.12" x2="674.5" y2="130.12" stroke="#000" stroke-width="2.05" stroke-dasharray="7.5 3.56"/>
<rect x="399.45" y="19.45" width="275.05" height="127.35" fill="none" stroke="#000" stroke-width="1.1"/>
<line x1="394.15" y1="19.45" x2="399.45" y2="19.45" stroke="#000" stroke-width="1.1"/>
<text x="389.35" y="23.65" text-anchor="end">1.00</text>
<line x1="394.15" y1="51.29" x2="399.45" y2="51.29" stroke="#000" stroke-width="1.1"/>
<text x="389.35" y="55.49" text-anchor="end">0.75</text>
<line x1="394.15" y1="83.12" x2="399.45" y2="83.12" stroke="#000" stroke-width="1.1"/>
<text x="389.35" y="87.33" text-anchor="end">0.50</text>
<line x1="394.15" y1="114.96" x2="399.45" y2="114.96" stroke="#000" stroke-width="1.1"/>
<text x="389.35" y="119.16" text-anchor="end">0.25</text>
<line x1="394.15" y1="146.8" x2="399.45" y2="146.8" stroke="#000" stroke-width="1.1"/>
<text x="389.35" y="151" text-anchor="end">0.00</text>
<line x1="412.24" y1="146.8" x2="412.24" y2="152.1" stroke="#000" stroke-width="1.1"/>
<text x="412.24" y="165.2" text-anchor="middle">0</text>
<line x1="470.12" y1="146.8" x2="470.12" y2="152.1" stroke="#000" stroke-width="1.1"/>
<text x="470.12" y="165.2" text-anchor="middle">100</text>
<line x1="528" y1="146.8" x2="528" y2="152.1" stroke="#000" stroke-width="1.1"/>
<text x="528" y="165.2" text-anchor="middle">200</text>
<line x1="585.88" y1="146.8" x2="585.88" y2="152.1" stroke="#000" stroke-width="1.1"/>
<text x="585.88" y="165.2" text-anchor="middle">300</text>
<line x1="643.77" y1="146.8" x2="643.77" y2="152.1" stroke="#000" stroke-width="1.1"/>
<text x="643.77" y="165.2" text-anchor="middle">400</text>
<text transform="translate(356.45,83.12) rotate(-90)" text-anchor="middle">Binding Intensity</text>
<text x="537" y="10.4" text-anchor="middle">Avicel</text>
<g class="tb">
<rect x="545.35" y="23.6" width="125.4" height="75.9" fill="#fff" stroke="#000" stroke-width="1"/>
<line x1="545.35" y1="36.1" x2="670.75" y2="36.1" stroke="#000" stroke-width="1"/>
<line x1="545.35" y1="48.8" x2="670.75" y2="48.8" stroke="#000" stroke-width="1"/>
<line x1="545.35" y1="61.5" x2="670.75" y2="61.5" stroke="#000" stroke-width="1"/>
<line x1="545.35" y1="74.2" x2="670.75" y2="74.2" stroke="#000" stroke-width="1"/>
<line x1="545.35" y1="87" x2="670.75" y2="87" stroke="#000" stroke-width="1"/>
<line x1="585.65" y1="23.6" x2="585.65" y2="99.5" stroke="#000" stroke-width="1"/>
<line x1="623.05" y1="23.6" x2="623.05" y2="99.5" stroke="#000" stroke-width="1"/>
<text transform="translate(547.25,32.8) scale(1.01,1)">Family</text>
<text transform="translate(587.85,32.8) scale(1.015,1)">Binders</text>
<text transform="translate(624.55,32.8) scale(1.08,1)">% of total</text>
<text transform="translate(547.25,45.5) scale(1.01,1)">CBM2</text>
<text transform="translate(621.35,46.1) scale(0.97,1)" text-anchor="end">324</text>
<text transform="translate(669.55,46.7) scale(0.97,1)" text-anchor="end">61</text>
<text transform="translate(547.25,58.2) scale(1.01,1)">CBM3</text>
<text transform="translate(621.35,58.8) scale(0.97,1)" text-anchor="end">89</text>
<text transform="translate(669.55,59.4) scale(0.97,1)" text-anchor="end">59</text>
<text transform="translate(547.25,70.9) scale(1.01,1)">CBM10</text>
<text transform="translate(621.35,71.5) scale(0.97,1)" text-anchor="end">9</text>
<text transform="translate(669.55,72.1) scale(0.97,1)" text-anchor="end">30</text>
<text transform="translate(547.25,83.7) scale(1.01,1)">CBM64</text>
<text transform="translate(621.35,84.3) scale(0.97,1)" text-anchor="end">10</text>
<text transform="translate(669.55,84.9) scale(0.97,1)" text-anchor="end">71</text>
<text transform="translate(547.25,96) scale(1.06,1)">Total</text>
<text transform="translate(621.35,96.6) scale(0.97,1)" text-anchor="end">432</text>
<text transform="translate(669.55,97.2) scale(0.97,1)" text-anchor="end">60</text>
</g>
</g>
<g><!-- LDPE -->
<path d="M65.7,333.6 L65.7,261.04 L66.74,261.04 L66.74,262.06 L67.78,262.06 L67.78,272.34 L68.82,272.34 L68.82,272.69 L69.85,272.69 L69.85,274.09 L70.89,274.09 L70.89,275.67 L71.93,275.67 L71.93,276.6 L72.97,276.6 L72.97,277.47 L74.01,277.47 L74.01,278.33 L75.05,278.33 L75.05,279.2 L76.09,279.2 L76.09,280.06 L77.12,280.06 L77.12,280.85 L78.16,280.85 L78.16,281.47 L79.2,281.47 L79.2,282.09 L80.24,282.09 L80.24,282.71 L81.28,282.71 L81.28,283.33 L82.32,283.33 L82.32,284.05 L83.36,284.05 L83.36,284.83 L84.39,284.83 L84.39,285.61 L85.43,285.61 L85.43,286.39 L86.47,286.39 L86.47,287.04 L87.51,287.04 L87.51,287.67 L88.55,287.67 L88.55,290.84 L89.59,290.84 L89.59,291.07 L90.63,291.07 L90.63,291.3 L91.66,291.3 L91.66,291.53 L92.7,291.53 L92.7,291.76 L93.74,291.76 L93.74,291.99 L94.78,291.99 L94.78,292.22 L95.82,292.22 L95.82,292.45 L96.86,292.45 L96.86,292.68 L97.9,292.68 L97.9,292.91 L98.93,292.91 L98.93,293.14 L99.97,293.14 L99.97,293.39 L101.01,293.39 L101.01,293.63 L102.05,293.63 L102.05,293.87 L103.09,293.87 L103.09,294.12 L104.13,294.12 L104.13,294.36 L105.17,294.36 L105.17,294.6 L106.2,294.6 L106.2,294.84 L107.24,294.84 L107.24,295.09 L108.28,295.09 L108.28,295.33 L109.32,295.33 L109.32,295.59 L110.36,295.59 L110.36,295.85 L111.4,295.85 L111.4,296.1 L112.44,296.1 L112.44,296.36 L113.48,296.36 L113.48,296.61 L114.51,296.61 L114.51,296.87 L115.55,296.87 L115.55,297.13 L116.59,297.13 L116.59,297.38 L117.63,297.38 L117.63,297.64 L118.67,297.64 L118.67,297.94 L119.71,297.94 L119.71,298.25 L120.75,298.25 L120.75,298.57 L121.78,298.57 L121.78,298.88 L122.82,298.88 L122.82,299.19 L123.86,299.19 L123.86,299.51 L124.9,299.51 L124.9,299.82 L125.94,299.82 L125.94,300.13 L126.98,300.13 L126.98,300.45 L128.02,300.45 L128.02,300.7 L129.05,300.7 L129.05,300.88 L130.09,300.88 L130.09,301.05 L131.13,301.05 L131.13,301.23 L132.17,301.23 L132.17,301.4 L133.21,301.4 L133.21,301.58 L134.25,301.58 L134.25,301.76 L135.29,301.76 L135.29,301.93 L136.32,301.93 L136.32,302.11 L137.36,302.11 L137.36,302.28 L138.4,302.28 L138.4,302.42 L139.44,302.42 L139.44,302.57 L140.48,302.57 L140.48,302.71 L141.52,302.71 L141.52,302.85 L142.56,302.85 L142.56,302.99 L143.59,302.99 L143.59,303.13 L144.63,303.13 L144.63,303.28 L145.67,303.28 L145.67,303.42 L146.71,303.42 L146.71,303.56 L147.75,303.56 L147.75,303.7 L148.79,303.7 L148.79,303.84 L149.83,303.84 L149.83,303.99 L150.86,303.99 L150.86,304.16 L151.9,304.16 L151.9,304.32 L152.94,304.32 L152.94,304.49 L153.98,304.49 L153.98,304.65 L155.02,304.65 L155.02,304.81 L156.06,304.81 L156.06,304.98 L157.1,304.98 L157.1,305.14 L158.13,305.14 L158.13,305.3 L159.17,305.3 L159.17,305.47 L160.21,305.47 L160.21,305.63 L161.25,305.63 L161.25,305.8 L162.29,305.8 L162.29,305.92 L163.33,305.92 L163.33,306.03 L164.37,306.03 L164.37,306.14 L165.4,306.14 L165.4,306.25 L166.44,306.25 L166.44,306.35 L167.48,306.35 L167.48,306.46 L168.52,306.46 L168.52,306.57 L169.56,306.57 L169.56,306.68 L170.6,306.68 L170.6,306.78 L171.64,306.78 L171.64,306.89 L172.67,306.89 L172.67,307 L173.71,307 L173.71,307.11 L174.75,307.11 L174.75,307.21 L175.79,307.21 L175.79,307.32 L176.83,307.32 L176.83,307.43 L177.87,307.43 L177.87,307.54 L178.91,307.54 L178.91,307.64 L179.94,307.64 L179.94,307.75 L180.98,307.75 L180.98,307.86 L182.02,307.86 L182.02,307.97 L183.06,307.97 L183.06,308.08 L184.1,308.08 L184.1,308.18 L185.14,308.18 L185.14,308.28 L186.18,308.28 L186.18,308.38 L187.21,308.38 L187.21,308.48 L188.25,308.48 L188.25,308.59 L189.29,308.59 L189.29,308.69 L190.33,308.69 L190.33,308.79 L191.37,308.79 L191.37,308.89 L192.41,308.89 L192.41,308.99 L193.45,308.99 L193.45,309.09 L194.49,309.09 L194.49,309.19 L195.52,309.19 L195.52,309.29 L196.56,309.29 L196.56,309.4 L197.6,309.4 L197.6,309.5 L198.64,309.5 L198.64,309.6 L199.68,309.6 L199.68,309.7 L200.72,309.7 L200.72,309.8 L201.76,309.8 L201.76,309.9 L202.79,309.9 L202.79,310 L203.83,310 L203.83,310.1 L204.87,310.1 L204.87,310.21 L205.91,310.21 L205.91,310.31 L206.95,310.31 L206.95,310.39 L207.99,310.39 L207.99,310.47 L209.03,310.47 L209.03,310.56 L210.06,310.56 L210.06,310.64 L211.1,310.64 L211.1,310.73 L212.14,310.73 L212.14,310.81 L213.18,310.81 L213.18,310.89 L214.22,310.89 L214.22,310.98 L215.26,310.98 L215.26,311.06 L216.3,311.06 L216.3,311.14 L217.33,311.14 L217.33,311.23 L218.37,311.23 L218.37,311.31 L219.41,311.31 L219.41,311.4 L220.45,311.4 L220.45,311.48 L221.49,311.48 L221.49,311.56 L222.53,311.56 L222.53,311.65 L223.57,311.65 L223.57,311.73 L224.6,311.73 L224.6,311.81 L225.64,311.81 L225.64,311.9 L226.68,311.9 L226.68,311.98 L227.72,311.98 L227.72,312.07 L228.76,312.07 L228.76,312.16 L229.8,312.16 L229.8,312.27 L230.84,312.27 L230.84,312.37 L231.87,312.37 L231.87,312.47 L232.91,312.47 L232.91,312.58 L233.95,312.58 L233.95,312.68 L234.99,312.68 L234.99,312.78 L236.03,312.78 L236.03,312.89 L237.07,312.89 L237.07,312.99 L238.11,312.99 L238.11,313.1 L239.14,313.1 L239.14,313.2 L240.18,313.2 L240.18,313.25 L241.22,313.25 L241.22,313.28 L242.26,313.28 L242.26,313.31 L243.3,313.31 L243.3,313.34 L244.34,313.34 L244.34,313.37 L245.38,313.37 L245.38,313.4 L246.41,313.4 L246.41,313.43 L247.45,313.43 L247.45,313.46 L248.49,313.46 L248.49,313.49 L249.53,313.49 L249.53,313.52 L250.57,313.52 L250.57,313.55 L251.61,313.55 L251.61,313.58 L252.65,313.58 L252.65,313.61 L253.68,313.61 L253.68,313.67 L254.72,313.67 L254.72,313.73 L255.76,313.73 L255.76,313.78 L256.8,313.78 L256.8,313.84 L257.84,313.84 L257.84,313.9 L258.88,313.9 L258.88,313.95 L259.92,313.95 L259.92,314.01 L260.95,314.01 L260.95,314.07 L261.99,314.07 L261.99,314.12 L263.03,314.12 L263.03,314.18 L264.07,314.18 L264.07,314.24 L265.11,314.24 L265.11,314.29 L266.15,314.29 L266.15,314.35 L267.19,314.35 L267.19,314.41 L268.22,314.41 L268.22,314.46 L269.26,314.46 L269.26,314.52 L270.3,314.52 L270.3,314.58 L271.34,314.58 L271.34,314.63 L272.38,314.63 L272.38,314.69 L273.42,314.69 L273.42,314.75 L274.46,314.75 L274.46,314.8 L275.5,314.8 L275.5,314.86 L276.53,314.86 L276.53,314.92 L277.57,314.92 L277.57,314.99 L278.61,314.99 L278.61,315.06 L279.65,315.06 L279.65,315.13 L280.69,315.13 L280.69,315.2 L281.73,315.2 L281.73,315.27 L282.77,315.27 L282.77,315.33 L283.8,315.33 L283.8,315.4 L284.84,315.4 L284.84,315.47 L285.88,315.47 L285.88,315.54 L286.92,315.54 L286.92,315.61 L287.96,315.61 L287.96,315.68 L289,315.68 L289,315.74 L290.04,315.74 L290.04,315.81 L291.07,315.81 L291.07,315.88 L292.11,315.88 L292.11,315.95 L293.15,315.95 L293.15,316.02 L294.19,316.02 L294.19,316.09 L295.23,316.09 L295.23,316.15 L296.27,316.15 L296.27,316.22 L297.31,316.22 L297.31,316.29 L298.34,316.29 L298.34,316.36 L299.38,316.36 L299.38,316.42 L300.42,316.42 L300.42,316.45 L301.46,316.45 L301.46,316.49 L302.5,316.49 L302.5,316.52 L303.54,316.52 L303.54,316.55 L304.58,316.55 L304.58,316.58 L305.61,316.58 L305.61,316.62 L306.65,316.62 L306.65,316.65 L307.69,316.65 L307.69,316.68 L308.73,316.68 L308.73,316.71 L309.77,316.71 L309.77,316.75 L310.81,316.75 L310.81,316.78 L311.85,316.78 L311.85,316.81 L312.88,316.81 L312.88,316.84 L313.92,316.84 L313.92,316.88 L314.96,316.88 L314.96,316.91 L316,316.91 L316,333.6Z" fill="#8B0000"/>
<rect x="66.69" y="262.06" width="1.22" height="71.54" fill="#FFFF00"/>
<rect x="68.2" y="272.53" width="1.3" height="61.07" fill="#00008B"/>
<rect x="86.23" y="287.11" width="1.74" height="46.49" fill="#00FF00"/>
<rect x="90.73" y="291.4" width="1.74" height="42.2" fill="#00FF00"/>
<rect x="93.5" y="291.96" width="1.31" height="41.64" fill="#FFFF00"/>
<rect x="97.5" y="292.8" width="0.9" height="40.8" fill="#00008B"/>
<rect x="100.4" y="293.53" width="1.4" height="40.07" fill="#00008B"/>
<rect x="111" y="296.05" width="1.39" height="37.55" fill="#FFFF00"/>
<rect x="119.9" y="298.37" width="1.4" height="35.23" fill="#00008B"/>
<rect x="123.2" y="299.36" width="1.4" height="34.24" fill="#00008B"/>
<rect x="126.88" y="300.43" width="1.13" height="33.17" fill="#FFFF00"/>
<rect x="130.1" y="301.33" width="4.3" height="32.27" fill="#00008B"/>
<rect x="134.52" y="301.85" width="1.65" height="31.75" fill="#FFFF00"/>
<rect x="138.9" y="302.51" width="1.3" height="31.09" fill="#00008B"/>
<rect x="141.92" y="302.94" width="1.57" height="30.66" fill="#FFFF00"/>
<rect x="144.4" y="303.24" width="1" height="30.36" fill="#00008B" fill-opacity="0.8"/>
<rect x="146.1" y="303.46" width="0.8" height="30.14" fill="#00008B" fill-opacity="0.8"/>
<rect x="147.8" y="303.71" width="1" height="29.89" fill="#00008B" fill-opacity="0.8"/>
<rect x="150.3" y="304.1" width="1.5" height="29.5" fill="#00008B"/>
<rect x="153.6" y="304.59" width="1.1" height="29.01" fill="#00008B"/>
<rect x="161.8" y="305.88" width="1.31" height="27.72" fill="#00FF00"/>
<rect x="163.6" y="306.1" width="1.8" height="27.5" fill="#00008B"/>
<rect x="165.9" y="306.31" width="1.31" height="27.29" fill="#00FF00"/>
<rect x="168" y="306.62" width="3" height="26.98" fill="#00008B"/>
<rect x="173.2" y="307.11" width="2.2" height="26.49" fill="#00008B"/>
<rect x="179.1" y="307.75" width="2.6" height="25.85" fill="#00008B"/>
<rect x="191.2" y="308.91" width="1.9" height="24.69" fill="#00008B"/>
<rect x="197.5" y="309.49" width="1" height="24.11" fill="#00008B" fill-opacity="0.8"/>
<rect x="199.2" y="309.64" width="0.8" height="23.96" fill="#00008B" fill-opacity="0.8"/>
<rect x="200.9" y="309.78" width="0.3" height="23.82" fill="#00008B" fill-opacity="0.8"/>
<rect x="206.4" y="310.42" width="2.9" height="23.18" fill="#00008B"/>
<rect x="212.6" y="310.91" width="2.6" height="22.69" fill="#00008B"/>
<rect x="216.14" y="311.17" width="1.91" height="22.43" fill="#00FF00"/>
<rect x="218.9" y="311.37" width="1.5" height="22.23" fill="#00008B"/>
<rect x="228.5" y="312.34" width="5" height="21.26" fill="#00008B"/>
<rect x="233.79" y="312.67" width="1.22" height="20.93" fill="#FFFF00"/>
<rect x="238.5" y="313.23" width="3.1" height="20.37" fill="#00008B"/>
<rect x="248.3" y="313.49" width="1.5" height="20.11" fill="#00008B"/>
<rect x="249.9" y="313.54" width="1.39" height="20.06" fill="#00FF00"/>
<rect x="258.3" y="313.93" width="1.3" height="19.67" fill="#00FF00"/>
<rect x="260.2" y="314.05" width="2" height="19.55" fill="#00008B"/>
<rect x="263.8" y="314.24" width="1.8" height="19.36" fill="#00008B"/>
<rect x="265.7" y="314.34" width="1.39" height="19.26" fill="#00FF00"/>
<rect x="267.9" y="314.46" width="1.6" height="19.14" fill="#00008B"/>
<rect x="270.08" y="314.56" width="1.04" height="19.04" fill="#FFFF00"/>
<rect x="271.5" y="314.67" width="2.2" height="18.93" fill="#00008B"/>
<rect x="275.2" y="314.87" width="2" height="18.73" fill="#00008B"/>
<rect x="277.7" y="315.02" width="1.5" height="18.58" fill="#00008B"/>
<rect x="279.3" y="315.12" width="1.39" height="18.48" fill="#00FF00"/>
<rect x="284.2" y="315.43" width="1" height="18.17" fill="#00008B" fill-opacity="0.8"/>
<rect x="285.9" y="315.53" width="0.8" height="18.07" fill="#00008B" fill-opacity="0.8"/>
<rect x="287.6" y="315.63" width="0.5" height="17.97" fill="#00008B" fill-opacity="0.8"/>
<rect x="294.3" y="316.11" width="1.5" height="17.49" fill="#00008B"/>
<rect x="300.9" y="316.47" width="1.3" height="17.13" fill="#00008B"/>
<rect x="308.2" y="316.71" width="1.6" height="16.89" fill="#00008B"/>
<rect x="310.5" y="316.78" width="1.9" height="16.82" fill="#00008B"/>
<line x1="53.4" y1="316.92" x2="328.45" y2="316.92" stroke="#000" stroke-width="2.05" stroke-dasharray="7.5 3.56"/>
<rect x="53.4" y="206.3" width="275.05" height="127.3" fill="none" stroke="#000" stroke-width="1.1"/>
<line x1="48.1" y1="206.3" x2="53.4" y2="206.3" stroke="#000" stroke-width="1.1"/>
<text x="43.3" y="210.5" text-anchor="end">1.00</text>
<line x1="48.1" y1="238.12" x2="53.4" y2="238.12" stroke="#000" stroke-width="1.1"/>
<text x="43.3" y="242.32" text-anchor="end">0.75</text>
<line x1="48.1" y1="269.95" x2="53.4" y2="269.95" stroke="#000" stroke-width="1.1"/>
<text x="43.3" y="274.15" text-anchor="end">0.50</text>
<line x1="48.1" y1="301.78" x2="53.4" y2="301.78" stroke="#000" stroke-width="1.1"/>
<text x="43.3" y="305.98" text-anchor="end">0.25</text>
<line x1="48.1" y1="333.6" x2="53.4" y2="333.6" stroke="#000" stroke-width="1.1"/>
<text x="43.3" y="337.8" text-anchor="end">0.00</text>
<line x1="66.42" y1="333.6" x2="66.42" y2="338.9" stroke="#000" stroke-width="1.1"/>
<text x="66.42" y="352" text-anchor="middle">0</text>
<line x1="118.3" y1="333.6" x2="118.3" y2="338.9" stroke="#000" stroke-width="1.1"/>
<text x="118.3" y="352" text-anchor="middle">50</text>
<line x1="170.17" y1="333.6" x2="170.17" y2="338.9" stroke="#000" stroke-width="1.1"/>
<text x="170.17" y="352" text-anchor="middle">100</text>
<line x1="222.05" y1="333.6" x2="222.05" y2="338.9" stroke="#000" stroke-width="1.1"/>
<text x="222.05" y="352" text-anchor="middle">150</text>
<line x1="273.93" y1="333.6" x2="273.93" y2="338.9" stroke="#000" stroke-width="1.1"/>
<text x="273.93" y="352" text-anchor="middle">200</text>
<line x1="325.8" y1="333.6" x2="325.8" y2="338.9" stroke="#000" stroke-width="1.1"/>
<text x="325.8" y="352" text-anchor="middle">250</text>
<text transform="translate(9.9,269.95) rotate(-90)" text-anchor="middle">Binding Intensity</text>
<text x="181" y="199.6" text-anchor="middle">LDPE</text>
<g class="tb">
<rect x="198.25" y="209.6" width="125.4" height="75.9" fill="#fff" stroke="#000" stroke-width="1"/>
<line x1="198.25" y1="222.1" x2="323.65" y2="222.1" stroke="#000" stroke-width="1"/>
<line x1="198.25" y1="234.8" x2="323.65" y2="234.8" stroke="#000" stroke-width="1"/>
<line x1="198.25" y1="247.5" x2="323.65" y2="247.5" stroke="#000" stroke-width="1"/>
<line x1="198.25" y1="260.2" x2="323.65" y2="260.2" stroke="#000" stroke-width="1"/>
<line x1="198.25" y1="273" x2="323.65" y2="273" stroke="#000" stroke-width="1"/>
<line x1="238.55" y1="209.6" x2="238.55" y2="285.5" stroke="#000" stroke-width="1"/>
<line x1="275.95" y1="209.6" x2="275.95" y2="285.5" stroke="#000" stroke-width="1"/>
<text transform="translate(200.15,218.8) scale(1.01,1)">Family</text>
<text transform="translate(240.75,218.8) scale(1.015,1)">Binders</text>
<text transform="translate(277.45,218.8) scale(1.08,1)">% of total</text>
<text transform="translate(200.15,231.5) scale(1.01,1)">CBM2</text>
<text transform="translate(274.25,232.1) scale(0.97,1)" text-anchor="end">162</text>
<text transform="translate(322.45,232.7) scale(0.97,1)" text-anchor="end">31</text>
<text transform="translate(200.15,244.2) scale(1.01,1)">CBM3</text>
<text transform="translate(274.25,244.8) scale(0.97,1)" text-anchor="end">60</text>
<text transform="translate(322.45,245.4) scale(0.97,1)" text-anchor="end">39</text>
<text transform="translate(200.15,256.9) scale(1.01,1)">CBM10</text>
<text transform="translate(274.25,257.5) scale(0.97,1)" text-anchor="end">10</text>
<text transform="translate(322.45,258.1) scale(0.97,1)" text-anchor="end">33</text>
<text transform="translate(200.15,269.7) scale(1.01,1)">CBM64</text>
<text transform="translate(274.25,270.3) scale(0.97,1)" text-anchor="end">9</text>
<text transform="translate(322.45,270.9) scale(0.97,1)" text-anchor="end">64</text>
<text transform="translate(200.15,282) scale(1.06,1)">Total</text>
<text transform="translate(274.25,282.6) scale(0.97,1)" text-anchor="end">241</text>
<text transform="translate(322.45,283.2) scale(0.97,1)" text-anchor="end">33</text>
</g>
</g>
<g><!-- Chitin -->
<path d="M412,333.6 L412,239.02 L412.61,239.02 L412.61,239.61 L413.21,239.61 L413.21,242.86 L413.82,242.86 L413.82,246.11 L414.43,246.11 L414.43,248.13 L415.03,248.13 L415.03,249.97 L415.64,249.97 L415.64,251.81 L416.25,251.81 L416.25,253.31 L416.85,253.31 L416.85,254.32 L417.46,254.32 L417.46,255.33 L418.07,255.33 L418.07,256.35 L418.67,256.35 L418.67,257.36 L419.28,257.36 L419.28,258.3 L419.89,258.3 L419.89,258.79 L420.49,258.79 L420.49,259.28 L421.1,259.28 L421.1,259.76 L421.7,259.76 L421.7,260.25 L422.31,260.25 L422.31,260.73 L422.92,260.73 L422.92,261.22 L423.52,261.22 L423.52,261.71 L424.13,261.71 L424.13,262.19 L424.74,262.19 L424.74,262.69 L425.34,262.69 L425.34,263.2 L425.95,263.2 L425.95,263.72 L426.56,263.72 L426.56,264.23 L427.16,264.23 L427.16,264.75 L427.77,264.75 L427.77,265.26 L428.38,265.26 L428.38,265.77 L428.98,265.77 L428.98,266.29 L429.59,266.29 L429.59,266.8 L430.2,266.8 L430.2,267.32 L430.8,267.32 L430.8,267.83 L431.41,267.83 L431.41,268.29 L432.02,268.29 L432.02,268.74 L432.62,268.74 L432.62,269.18 L433.23,269.18 L433.23,269.63 L433.84,269.63 L433.84,270.08 L434.44,270.08 L434.44,270.52 L435.05,270.52 L435.05,270.97 L435.66,270.97 L435.66,271.42 L436.26,271.42 L436.26,271.86 L436.87,271.86 L436.87,272.31 L437.48,272.31 L437.48,272.69 L438.08,272.69 L438.08,272.9 L438.69,272.9 L438.69,273.12 L439.29,273.12 L439.29,273.34 L439.9,273.34 L439.9,273.55 L440.51,273.55 L440.51,273.77 L441.11,273.77 L441.11,273.99 L441.72,273.99 L441.72,274.2 L442.33,274.2 L442.33,274.42 L442.93,274.42 L442.93,274.64 L443.54,274.64 L443.54,274.85 L444.15,274.85 L444.15,275.07 L444.75,275.07 L444.75,275.28 L445.36,275.28 L445.36,275.5 L445.97,275.5 L445.97,275.72 L446.57,275.72 L446.57,275.93 L447.18,275.93 L447.18,276.15 L447.79,276.15 L447.79,276.37 L448.39,276.37 L448.39,276.64 L449,276.64 L449,276.94 L449.61,276.94 L449.61,277.25 L450.21,277.25 L450.21,277.55 L450.82,277.55 L450.82,277.85 L451.43,277.85 L451.43,278.16 L452.03,278.16 L452.03,278.46 L452.64,278.46 L452.64,278.76 L453.25,278.76 L453.25,279.07 L453.85,279.07 L453.85,279.37 L454.46,279.37 L454.46,279.67 L455.07,279.67 L455.07,279.97 L455.67,279.97 L455.67,280.28 L456.28,280.28 L456.28,280.58 L456.88,280.58 L456.88,280.88 L457.49,280.88 L457.49,281.19 L458.1,281.19 L458.1,281.49 L458.7,281.49 L458.7,281.79 L459.31,281.79 L459.31,281.97 L459.92,281.97 L459.92,282.16 L460.52,282.16 L460.52,282.34 L461.13,282.34 L461.13,282.52 L461.74,282.52 L461.74,282.7 L462.34,282.7 L462.34,282.88 L462.95,282.88 L462.95,283.07 L463.56,283.07 L463.56,283.25 L464.16,283.25 L464.16,283.43 L464.77,283.43 L464.77,283.61 L465.38,283.61 L465.38,283.79 L465.98,283.79 L465.98,283.98 L466.59,283.98 L466.59,284.16 L467.2,284.16 L467.2,284.34 L467.8,284.34 L467.8,284.52 L468.41,284.52 L468.41,284.71 L469.02,284.71 L469.02,284.89 L469.62,284.89 L469.62,285.13 L470.23,285.13 L470.23,285.44 L470.84,285.44 L470.84,285.74 L471.44,285.74 L471.44,286.04 L472.05,286.04 L472.05,286.35 L472.66,286.35 L472.66,286.65 L473.26,286.65 L473.26,286.95 L473.87,286.95 L473.87,287.26 L474.47,287.26 L474.48,287.56 L475.08,287.56 L475.08,287.86 L475.69,287.86 L475.69,288.17 L476.29,288.17 L476.29,288.47 L476.9,288.47 L476.9,288.77 L477.51,288.77 L477.51,289.07 L478.11,289.07 L478.11,289.38 L478.72,289.38 L478.72,289.68 L479.33,289.68 L479.33,289.98 L479.93,289.98 L479.93,290.29 L480.54,290.29 L480.54,290.46 L481.15,290.46 L481.15,290.62 L481.75,290.62 L481.75,290.79 L482.36,290.79 L482.36,290.95 L482.97,290.95 L482.97,291.11 L483.57,291.11 L483.57,291.27 L484.18,291.27 L484.18,291.43 L484.79,291.43 L484.79,291.59 L485.39,291.59 L485.39,291.75 L486,291.75 L486,291.91 L486.61,291.91 L486.61,292.08 L487.21,292.08 L487.21,292.27 L487.82,292.27 L487.82,292.46 L488.43,292.46 L488.43,292.65 L489.03,292.65 L489.03,292.85 L489.64,292.85 L489.64,293.04 L490.25,293.04 L490.25,293.24 L490.85,293.24 L490.85,293.43 L491.46,293.43 L491.46,293.63 L492.07,293.63 L492.07,293.82 L492.67,293.82 L492.67,294.02 L493.28,294.02 L493.28,294.21 L493.88,294.21 L493.88,294.41 L494.49,294.41 L494.49,294.6 L495.1,294.6 L495.1,294.79 L495.7,294.79 L495.7,294.99 L496.31,294.99 L496.31,295.18 L496.92,295.18 L496.92,295.38 L497.52,295.38 L497.52,295.57 L498.13,295.57 L498.13,295.77 L498.74,295.77 L498.74,295.96 L499.34,295.96 L499.34,296.16 L499.95,296.16 L499.95,296.31 L500.56,296.31 L500.56,296.46 L501.16,296.46 L501.16,296.61 L501.77,296.61 L501.77,296.77 L502.38,296.77 L502.38,296.92 L502.98,296.92 L502.98,297.07 L503.59,297.07 L503.59,297.22 L504.2,297.22 L504.2,297.37 L504.8,297.37 L504.8,297.52 L505.41,297.52 L505.41,297.67 L506.02,297.67 L506.02,297.82 L506.62,297.82 L506.62,297.98 L507.23,297.98 L507.23,298.13 L507.84,298.13 L507.84,298.28 L508.44,298.28 L508.44,298.43 L509.05,298.43 L509.05,298.58 L509.66,298.58 L509.66,298.73 L510.26,298.73 L510.26,298.88 L510.87,298.88 L510.87,299.04 L511.47,299.04 L511.47,299.19 L512.08,299.19 L512.08,299.34 L512.69,299.34 L512.69,299.49 L513.29,299.49 L513.29,299.64 L513.9,299.64 L513.9,299.79 L514.51,299.79 L514.51,299.93 L515.11,299.93 L515.11,300.06 L515.72,300.06 L515.72,300.2 L516.33,300.2 L516.33,300.33 L516.93,300.33 L516.93,300.46 L517.54,300.46 L517.54,300.59 L518.15,300.59 L518.15,300.72 L518.75,300.72 L518.75,300.85 L519.36,300.85 L519.36,300.98 L519.97,300.98 L519.97,301.11 L520.57,301.11 L520.57,301.25 L521.18,301.25 L521.18,301.38 L521.79,301.38 L521.79,301.51 L522.39,301.51 L522.39,301.64 L523,301.64 L523,301.77 L523.61,301.77 L523.61,301.9 L524.21,301.9 L524.21,302.03 L524.82,302.03 L524.82,302.17 L525.43,302.17 L525.43,302.3 L526.03,302.3 L526.03,302.43 L526.64,302.43 L526.64,302.56 L527.25,302.56 L527.25,302.69 L527.85,302.69 L527.85,302.82 L528.46,302.82 L528.46,302.95 L529.06,302.95 L529.06,303.08 L529.67,303.08 L529.67,303.17 L530.28,303.17 L530.28,303.27 L530.88,303.27 L530.88,303.37 L531.49,303.37 L531.49,303.47 L532.1,303.47 L532.1,303.57 L532.7,303.57 L532.7,303.67 L533.31,303.67 L533.31,303.77 L533.92,303.77 L533.92,303.87 L534.52,303.87 L534.52,303.97 L535.13,303.97 L535.13,304.07 L535.74,304.07 L535.74,304.17 L536.34,304.17 L536.34,304.26 L536.95,304.26 L536.95,304.36 L537.56,304.36 L537.56,304.46 L538.16,304.46 L538.16,304.56 L538.77,304.56 L538.77,304.66 L539.38,304.66 L539.38,304.76 L539.98,304.76 L539.98,304.86 L540.59,304.86 L540.59,304.96 L541.2,304.96 L541.2,305.06 L541.8,305.06 L541.8,305.16 L542.41,305.16 L542.41,305.26 L543.02,305.26 L543.02,305.36 L543.62,305.36 L543.62,305.45 L544.23,305.45 L544.23,305.56 L544.84,305.56 L544.84,305.66 L545.44,305.66 L545.44,305.77 L546.05,305.77 L546.05,305.87 L546.65,305.87 L546.65,305.98 L547.26,305.98 L547.26,306.08 L547.87,306.08 L547.87,306.19 L548.47,306.19 L548.47,306.29 L549.08,306.29 L549.08,306.4 L549.69,306.4 L549.69,306.5 L550.29,306.5 L550.29,306.61 L550.9,306.61 L550.9,306.71 L551.51,306.71 L551.51,306.82 L552.11,306.82 L552.11,306.92 L552.72,306.92 L552.72,307.03 L553.33,307.03 L553.33,307.13 L553.93,307.13 L553.93,307.24 L554.54,307.24 L554.54,307.34 L555.15,307.34 L555.15,307.45 L555.75,307.45 L555.75,307.55 L556.36,307.55 L556.36,307.66 L556.97,307.66 L556.97,307.76 L557.57,307.76 L557.57,307.87 L558.18,307.87 L558.18,307.98 L558.79,307.98 L558.79,308.06 L559.39,308.06 L559.39,308.14 L560,308.14 L560,308.22 L560.61,308.22 L560.61,308.3 L561.21,308.3 L561.21,308.38 L561.82,308.38 L561.82,308.45 L562.43,308.45 L562.43,308.53 L563.03,308.53 L563.03,308.61 L563.64,308.61 L563.64,308.69 L564.24,308.69 L564.24,308.77 L564.85,308.77 L564.85,308.85 L565.46,308.85 L565.46,308.92 L566.06,308.92 L566.06,309 L566.67,309 L566.67,309.08 L567.28,309.08 L567.28,309.16 L567.88,309.16 L567.88,309.24 L568.49,309.24 L568.49,309.32 L569.1,309.32 L569.1,309.39 L569.7,309.39 L569.7,309.47 L570.31,309.47 L570.31,309.55 L570.92,309.55 L570.92,309.63 L571.52,309.63 L571.52,309.71 L572.13,309.71 L572.13,309.78 L572.74,309.78 L572.74,309.86 L573.34,309.86 L573.34,309.94 L573.95,309.94 L573.95,310.01 L574.56,310.01 L574.56,310.07 L575.16,310.07 L575.16,310.14 L575.77,310.14 L575.77,310.21 L576.38,310.21 L576.38,310.27 L576.98,310.27 L576.98,310.34 L577.59,310.34 L577.59,310.41 L578.2,310.41 L578.2,310.48 L578.8,310.48 L578.8,310.54 L579.41,310.54 L579.41,310.61 L580.02,310.61 L580.02,310.68 L580.62,310.68 L580.62,310.74 L581.23,310.74 L581.23,310.81 L581.83,310.81 L581.83,310.88 L582.44,310.88 L582.44,310.95 L583.05,310.95 L583.05,311.01 L583.65,311.01 L583.65,311.08 L584.26,311.08 L584.26,311.15 L584.87,311.15 L584.87,311.22 L585.47,311.22 L585.47,311.31 L586.08,311.31 L586.08,311.4 L586.69,311.4 L586.69,311.49 L587.29,311.49 L587.29,311.58 L587.9,311.58 L587.9,311.67 L588.51,311.67 L588.51,311.75 L589.11,311.75 L589.11,311.84 L589.72,311.84 L589.72,311.93 L590.33,311.93 L590.33,312 L590.93,312 L590.93,312.06 L591.54,312.06 L591.54,312.12 L592.15,312.12 L592.15,312.19 L592.75,312.19 L592.75,312.25 L593.36,312.25 L593.36,312.31 L593.97,312.31 L593.97,312.37 L594.57,312.37 L594.57,312.43 L595.18,312.43 L595.18,312.49 L595.79,312.49 L595.79,312.55 L596.39,312.55 L596.39,312.61 L597,312.61 L597,312.67 L597.61,312.67 L597.61,312.73 L598.21,312.73 L598.21,312.79 L598.82,312.79 L598.82,312.86 L599.43,312.86 L599.42,312.92 L600.03,312.92 L600.03,312.98 L600.64,312.98 L600.64,313.04 L601.24,313.04 L601.24,313.1 L601.85,313.1 L601.85,313.16 L602.46,313.16 L602.46,313.22 L603.06,313.22 L603.06,313.28 L603.67,313.28 L603.67,313.34 L604.28,313.34 L604.28,313.4 L604.88,313.4 L604.88,313.47 L605.49,313.47 L605.49,313.53 L606.1,313.53 L606.1,313.6 L606.7,313.6 L606.7,313.68 L607.31,313.68 L607.31,313.75 L607.92,313.75 L607.92,313.82 L608.52,313.82 L608.52,313.89 L609.13,313.89 L609.13,313.96 L609.74,313.96 L609.74,314.03 L610.34,314.03 L610.34,314.1 L610.95,314.1 L610.95,314.17 L611.56,314.17 L611.56,314.24 L612.16,314.24 L612.16,314.32 L612.77,314.32 L612.77,314.39 L613.38,314.39 L613.38,314.46 L613.98,314.46 L613.98,314.53 L614.59,314.53 L614.59,314.6 L615.2,314.6 L615.2,314.67 L615.8,314.67 L615.8,314.74 L616.41,314.74 L616.41,314.81 L617.02,314.81 L617.02,314.88 L617.62,314.88 L617.62,314.96 L618.23,314.96 L618.23,315.03 L618.83,315.03 L618.83,315.1 L619.44,315.1 L619.44,315.17 L620.05,315.17 L620.05,315.24 L620.65,315.24 L620.65,315.32 L621.26,315.32 L621.26,315.4 L621.87,315.4 L621.87,315.48 L622.47,315.48 L622.47,315.56 L623.08,315.56 L623.08,315.64 L623.69,315.64 L623.69,315.72 L624.29,315.72 L624.29,315.8 L624.9,315.8 L624.9,315.89 L625.51,315.89 L625.51,315.97 L626.11,315.97 L626.11,316.05 L626.72,316.05 L626.72,316.13 L627.33,316.13 L627.33,316.21 L627.93,316.21 L627.93,316.29 L628.54,316.29 L628.54,316.37 L629.15,316.37 L629.15,316.45 L629.75,316.45 L629.75,316.54 L630.36,316.54 L630.36,316.62 L630.97,316.62 L630.97,316.7 L631.57,316.7 L631.57,316.78 L632.18,316.78 L632.18,316.86 L632.79,316.86 L632.79,316.94 L633.39,316.94 L633.39,317.02 L634,317.02 L634,317.1 L634.61,317.1 L634.61,317.19 L635.21,317.19 L635.21,317.27 L635.82,317.27 L635.82,317.33 L636.42,317.33 L636.42,317.38 L637.03,317.38 L637.03,317.42 L637.64,317.42 L637.64,317.47 L638.24,317.47 L638.24,317.51 L638.85,317.51 L638.85,317.56 L639.46,317.56 L639.46,317.6 L640.06,317.6 L640.06,317.65 L640.67,317.65 L640.67,317.7 L641.28,317.7 L641.28,317.74 L641.88,317.74 L641.88,317.79 L642.49,317.79 L642.49,317.83 L643.1,317.83 L643.1,317.88 L643.7,317.88 L643.7,317.92 L644.31,317.92 L644.31,317.97 L644.92,317.97 L644.92,318.02 L645.52,318.02 L645.52,318.06 L646.13,318.06 L646.13,318.11 L646.74,318.11 L646.74,318.15 L647.34,318.15 L647.34,318.2 L647.95,318.2 L647.95,318.24 L648.56,318.24 L648.56,318.29 L649.16,318.29 L649.16,318.34 L649.77,318.34 L649.77,318.38 L650.38,318.38 L650.38,318.43 L650.98,318.43 L650.98,318.47 L651.59,318.47 L651.59,318.5 L652.2,318.5 L652.2,318.54 L652.8,318.54 L652.8,318.57 L653.41,318.57 L653.41,318.61 L654.01,318.61 L654.01,318.65 L654.62,318.65 L654.62,318.68 L655.23,318.68 L655.23,318.72 L655.83,318.72 L655.83,318.75 L656.44,318.75 L656.44,318.79 L657.05,318.79 L657.05,318.82 L657.65,318.82 L657.65,318.86 L658.26,318.86 L658.26,318.89 L658.87,318.89 L658.87,318.93 L659.47,318.93 L659.47,318.96 L660.08,318.96 L660.08,319 L660.69,319 L660.69,319.03 L661.29,319.03 L661.29,319.07 L661.9,319.07 L661.9,333.6Z" fill="#8B0000"/>
<rect x="419.1" y="258.52" width="1.5" height="75.08" fill="#00008B"/>
<rect x="423.4" y="261.77" width="1" height="71.83" fill="#00008B"/>
<rect x="431.7" y="268.69" width="1.1" height="64.91" fill="#3c0070"/>
<rect x="443.6" y="275.14" width="2.1" height="58.46" fill="#00008B"/>
<rect x="449.8" y="277.52" width="1.3" height="56.08" fill="#00008B"/>
<rect x="459" y="282.04" width="1.7" height="51.56" fill="#3c0070"/>
<rect x="461.7" y="282.76" width="1.1" height="50.84" fill="#00008B"/>
<rect x="474.3" y="287.59" width="1.1" height="46.01" fill="#3c0070"/>
<rect x="476" y="288.72" width="2.2" height="44.88" fill="#E08A08"/>
<rect x="481.4" y="290.89" width="2.1" height="42.71" fill="#00008B"/>
<rect x="487.8" y="292.82" width="2.9" height="40.78" fill="#00008B"/>
<rect x="493.5" y="294.43" width="1.5" height="39.17" fill="#00008B"/>
<rect x="498" y="295.79" width="1" height="37.81" fill="#00008B" fill-opacity="0.8"/>
<rect x="499.7" y="296.27" width="0.8" height="37.33" fill="#00008B" fill-opacity="0.8"/>
<rect x="505.4" y="297.72" width="1" height="35.88" fill="#00008B" fill-opacity="0.8"/>
<rect x="507.1" y="298.12" width="0.8" height="35.48" fill="#00008B" fill-opacity="0.8"/>
<rect x="510.68" y="299.05" width="1.13" height="34.55" fill="#FFFF00"/>
<rect x="516.7" y="300.5" width="1.5" height="33.1" fill="#E08A08"/>
<rect x="521.9" y="301.6" width="1.2" height="32" fill="#00008B"/>
<rect x="526.3" y="302.58" width="1.5" height="31.02" fill="#00008B"/>
<rect x="535.1" y="304.31" width="3.7" height="29.29" fill="#00008B"/>
<rect x="540.3" y="304.98" width="1.5" height="28.62" fill="#00008B"/>
<rect x="544.7" y="305.69" width="1.2" height="27.91" fill="#6aa808"/>
<rect x="546.7" y="306.15" width="2.5" height="27.45" fill="#E08A08"/>
<rect x="549.9" y="306.68" width="2.2" height="26.92" fill="#3c0070"/>
<rect x="555.8" y="307.6" width="1" height="26" fill="#00008B" fill-opacity="0.8"/>
<rect x="557.5" y="307.87" width="0.8" height="25.73" fill="#00008B" fill-opacity="0.8"/>
<rect x="563.2" y="308.67" width="1.2" height="24.93" fill="#907848"/>
<rect x="567.6" y="309.23" width="1" height="24.37" fill="#00008B" fill-opacity="0.8"/>
<rect x="569.3" y="309.43" width="0.8" height="24.17" fill="#00008B" fill-opacity="0.8"/>
<rect x="571" y="309.68" width="1.2" height="23.92" fill="#00008B" fill-opacity="0.8"/>
<rect x="572.8" y="309.88" width="0.7" height="23.72" fill="#00008B" fill-opacity="0.8"/>
<rect x="576.3" y="310.29" width="1.1" height="23.31" fill="#907848"/>
<rect x="577.8" y="310.5" width="1.8" height="23.1" fill="#00008B"/>
<rect x="580.5" y="310.75" width="1" height="22.85" fill="#00008B" fill-opacity="0.8"/>
<rect x="582.2" y="310.93" width="0.8" height="22.67" fill="#00008B" fill-opacity="0.8"/>
<rect x="583.9" y="311.14" width="1.2" height="22.46" fill="#00008B" fill-opacity="0.8"/>
<rect x="586.4" y="311.51" width="1.5" height="22.09" fill="#6aa808"/>
<rect x="589.4" y="311.96" width="1.6" height="21.64" fill="#6aa808"/>
<rect x="592" y="312.28" width="2.7" height="21.32" fill="#E08A08"/>
<rect x="600.8" y="313.1" width="1.5" height="20.5" fill="#00008B"/>
<rect x="603.1" y="313.33" width="1.5" height="20.27" fill="#00008B"/>
<rect x="606.9" y="313.77" width="1.8" height="19.83" fill="#00008B"/>
<rect x="613.7" y="314.55" width="1.6" height="19.05" fill="#00008B"/>
<rect x="615.7" y="314.76" width="1.2" height="18.84" fill="#E08A08"/>
<rect x="619.8" y="315.3" width="2" height="18.3" fill="#6aa808"/>
<rect x="622.1" y="315.54" width="1" height="18.06" fill="#00008B" fill-opacity="0.8"/>
<rect x="623.8" y="315.75" width="0.8" height="17.85" fill="#00008B" fill-opacity="0.8"/>
<rect x="625.5" y="316.01" width="1.2" height="17.59" fill="#00008B" fill-opacity="0.8"/>
<rect x="627.3" y="316.23" width="0.9" height="17.37" fill="#00008B" fill-opacity="0.8"/>
<rect x="632.7" y="317.04" width="2.3" height="16.56" fill="#00008B"/>
<rect x="636.5" y="317.43" width="2" height="16.17" fill="#00008B"/>
<rect x="638.8" y="317.58" width="1.2" height="16.02" fill="#E08A08"/>
<rect x="642.6" y="317.97" width="4.1" height="15.63" fill="#6aa808"/>
<rect x="651.7" y="318.54" width="1.5" height="15.06" fill="#00008B"/>
<rect x="654" y="318.69" width="2.3" height="14.91" fill="#3c0070"/>
<rect x="658.5" y="318.94" width="1.6" height="14.66" fill="#00008B"/>
<line x1="399.45" y1="319.47" x2="674.5" y2="319.47" stroke="#000" stroke-width="2.05" stroke-dasharray="7.5 3.56"/>
<rect x="399.45" y="206.3" width="275.05" height="127.3" fill="none" stroke="#000" stroke-width="1.1"/>
<line x1="394.15" y1="206.3" x2="399.45" y2="206.3" stroke="#000" stroke-width="1.1"/>
<text x="389.35" y="210.5" text-anchor="end">1.00</text>
<line x1="394.15" y1="238.12" x2="399.45" y2="238.12" stroke="#000" stroke-width="1.1"/>
<text x="389.35" y="242.32" text-anchor="end">0.75</text>
<line x1="394.15" y1="269.95" x2="399.45" y2="269.95" stroke="#000" stroke-width="1.1"/>
<text x="389.35" y="274.15" text-anchor="end">0.50</text>
<line x1="394.15" y1="301.78" x2="399.45" y2="301.78" stroke="#000" stroke-width="1.1"/>
<text x="389.35" y="305.98" text-anchor="end">0.25</text>
<line x1="394.15" y1="333.6" x2="399.45" y2="333.6" stroke="#000" stroke-width="1.1"/>
<text x="389.35" y="337.8" text-anchor="end">0.00</text>
<line x1="412.26" y1="333.6" x2="412.26" y2="338.9" stroke="#000" stroke-width="1.1"/>
<text x="412.26" y="352" text-anchor="middle">0</text>
<line x1="472.95" y1="333.6" x2="472.95" y2="338.9" stroke="#000" stroke-width="1.1"/>
<text x="472.95" y="352" text-anchor="middle">100</text>
<line x1="533.64" y1="333.6" x2="533.64" y2="338.9" stroke="#000" stroke-width="1.1"/>
<text x="533.64" y="352" text-anchor="middle">200</text>
<line x1="594.33" y1="333.6" x2="594.33" y2="338.9" stroke="#000" stroke-width="1.1"/>
<text x="594.33" y="352" text-anchor="middle">300</text>
<line x1="655.02" y1="333.6" x2="655.02" y2="338.9" stroke="#000" stroke-width="1.1"/>
<text x="655.02" y="352" text-anchor="middle">400</text>
<text transform="translate(356.45,269.95) rotate(-90)" text-anchor="middle">Binding Intensity</text>
<text x="537" y="199.6" text-anchor="middle">Chitin</text>
<g class="tb">
<rect x="545.35" y="209.6" width="125.4" height="75.9" fill="#fff" stroke="#000" stroke-width="1"/>
<line x1="545.35" y1="222.1" x2="670.75" y2="222.1" stroke="#000" stroke-width="1"/>
<line x1="545.35" y1="234.8" x2="670.75" y2="234.8" stroke="#000" stroke-width="1"/>
<line x1="545.35" y1="247.5" x2="670.75" y2="247.5" stroke="#000" stroke-width="1"/>
<line x1="545.35" y1="260.2" x2="670.75" y2="260.2" stroke="#000" stroke-width="1"/>
<line x1="545.35" y1="273" x2="670.75" y2="273" stroke="#000" stroke-width="1"/>
<line x1="585.65" y1="209.6" x2="585.65" y2="285.5" stroke="#000" stroke-width="1"/>
<line x1="623.05" y1="209.6" x2="623.05" y2="285.5" stroke="#000" stroke-width="1"/>
<text transform="translate(547.25,218.8) scale(1.01,1)">Family</text>
<text transform="translate(587.85,218.8) scale(1.015,1)">Binders</text>
<text transform="translate(624.55,218.8) scale(1.08,1)">% of total</text>
<text transform="translate(547.25,231.5) scale(1.01,1)">CBM2</text>
<text transform="translate(621.35,232.1) scale(0.97,1)" text-anchor="end">322</text>
<text transform="translate(669.55,232.7) scale(0.97,1)" text-anchor="end">61</text>
<text transform="translate(547.25,244.2) scale(1.01,1)">CBM3</text>
<text transform="translate(621.35,244.8) scale(0.97,1)" text-anchor="end">74</text>
<text transform="translate(669.55,245.4) scale(0.97,1)" text-anchor="end">49</text>
<text transform="translate(547.25,256.9) scale(1.01,1)">CBM10</text>
<text transform="translate(621.35,257.5) scale(0.97,1)" text-anchor="end">9</text>
<text transform="translate(669.55,258.1) scale(0.97,1)" text-anchor="end">30</text>
<text transform="translate(547.25,269.7) scale(1.01,1)">CBM64</text>
<text transform="translate(621.35,270.3) scale(0.97,1)" text-anchor="end">7</text>
<text transform="translate(669.55,270.9) scale(0.97,1)" text-anchor="end">50</text>
<text transform="translate(547.25,282) scale(1.06,1)">Total</text>
<text transform="translate(621.35,282.6) scale(0.97,1)" text-anchor="end">412</text>
<text transform="translate(669.55,283.2) scale(0.97,1)" text-anchor="end">57</text>
</g>
</g>
<g><!-- PS -->
<path d="M66.4,520.3 L66.4,432.56 L67.15,432.56 L67.15,432.56 L67.9,432.56 L67.9,433.71 L68.65,433.71 L68.65,435.21 L69.4,435.21 L69.4,436.7 L70.16,436.7 L70.16,438.23 L70.91,438.23 L70.91,439.77 L71.66,439.77 L71.66,441.31 L72.41,441.31 L72.41,442.96 L73.16,442.96 L73.16,444.69 L73.91,444.69 L73.91,446.41 L74.66,446.41 L74.66,448.13 L75.41,448.13 L75.41,449.85 L76.17,449.85 L76.17,451.39 L76.92,451.39 L76.92,452.93 L77.67,452.93 L77.67,454.47 L78.42,454.47 L78.42,455.99 L79.17,455.99 L79.17,457.51 L79.92,457.51 L79.92,459.03 L80.67,459.03 L80.67,460.55 L81.42,460.55 L81.42,461.76 L82.18,461.76 L82.18,462.5 L82.93,462.5 L82.93,463.23 L83.68,463.23 L83.68,463.97 L84.43,463.97 L84.43,464.71 L85.18,464.71 L85.18,465.38 L85.93,465.38 L85.93,466.02 L86.68,466.02 L86.68,466.67 L87.43,466.67 L87.43,467.31 L88.18,467.31 L88.18,467.96 L88.94,467.96 L88.94,468.6 L89.69,468.6 L89.69,469.02 L90.44,469.02 L90.44,469.3 L91.19,469.3 L91.19,469.58 L91.94,469.58 L91.94,469.85 L92.69,469.85 L92.69,470.13 L93.44,470.13 L93.44,470.41 L94.19,470.41 L94.19,470.69 L94.95,470.69 L94.95,470.96 L95.7,470.96 L95.7,471.24 L96.45,471.24 L96.45,471.62 L97.2,471.62 L97.2,472.12 L97.95,472.12 L97.95,472.63 L98.7,472.63 L98.7,473.13 L99.45,473.13 L99.45,473.64 L100.2,473.64 L100.2,474.14 L100.96,474.14 L100.96,474.65 L101.71,474.65 L101.71,475.16 L102.46,475.16 L102.46,475.66 L103.21,475.66 L103.21,476.14 L103.96,476.14 L103.96,476.36 L104.71,476.36 L104.71,476.59 L105.46,476.59 L105.46,476.82 L106.21,476.82 L106.21,477.05 L106.97,477.05 L106.97,477.28 L107.72,477.28 L107.72,477.51 L108.47,477.51 L108.47,477.74 L109.22,477.74 L109.22,477.97 L109.97,477.97 L109.97,478.19 L110.72,478.19 L110.72,478.42 L111.47,478.42 L111.47,478.65 L112.22,478.65 L112.22,478.88 L112.97,478.88 L112.97,479.04 L113.73,479.04 L113.73,479.19 L114.48,479.19 L114.48,479.34 L115.23,479.34 L115.23,479.49 L115.98,479.49 L115.98,479.64 L116.73,479.64 L116.73,479.79 L117.48,479.79 L117.48,479.94 L118.23,479.94 L118.23,480.09 L118.98,480.09 L118.98,480.24 L119.74,480.24 L119.74,480.39 L120.49,480.39 L120.49,480.54 L121.24,480.54 L121.24,480.69 L121.99,480.69 L121.99,480.84 L122.74,480.84 L122.74,480.99 L123.49,480.99 L123.49,481.14 L124.24,481.14 L124.24,481.29 L124.99,481.29 L124.99,481.45 L125.75,481.45 L125.75,481.6 L126.5,481.6 L126.5,481.76 L127.25,481.76 L127.25,481.92 L128,481.92 L128,482.07 L128.75,482.07 L128.75,482.23 L129.5,482.23 L129.5,482.39 L130.25,482.39 L130.25,482.54 L131,482.54 L131,482.7 L131.75,482.7 L131.75,482.86 L132.51,482.86 L132.51,483.01 L133.26,483.01 L133.26,483.17 L134.01,483.17 L134.01,483.33 L134.76,483.33 L134.76,483.48 L135.51,483.48 L135.51,483.64 L136.26,483.64 L136.26,483.78 L137.01,483.78 L137.01,483.91 L137.76,483.91 L137.76,484.05 L138.52,484.05 L138.52,484.19 L139.27,484.19 L139.27,484.33 L140.02,484.33 L140.02,484.46 L140.77,484.46 L140.77,484.6 L141.52,484.6 L141.52,484.74 L142.27,484.74 L142.27,484.88 L143.02,484.88 L143.02,485.02 L143.77,485.02 L143.77,485.15 L144.53,485.15 L144.53,485.29 L145.28,485.29 L145.28,485.43 L146.03,485.43 L146.03,485.57 L146.78,485.57 L146.78,485.7 L147.53,485.7 L147.53,485.84 L148.28,485.84 L148.28,485.98 L149.03,485.98 L149.03,486.12 L149.78,486.12 L149.78,486.23 L150.53,486.23 L150.53,486.33 L151.29,486.33 L151.29,486.42 L152.04,486.42 L152.04,486.52 L152.79,486.52 L152.79,486.62 L153.54,486.62 L153.54,486.71 L154.29,486.71 L154.29,486.81 L155.04,486.81 L155.04,486.91 L155.79,486.91 L155.79,487.01 L156.54,487.01 L156.54,487.1 L157.3,487.1 L157.3,487.2 L158.05,487.2 L158.05,487.3 L158.8,487.3 L158.8,487.39 L159.55,487.39 L159.55,487.49 L160.3,487.49 L160.3,487.59 L161.05,487.59 L161.05,487.68 L161.8,487.68 L161.8,487.78 L162.55,487.78 L162.55,487.88 L163.31,487.88 L163.31,487.97 L164.06,487.97 L164.06,488.07 L164.81,488.07 L164.81,488.16 L165.56,488.16 L165.56,488.25 L166.31,488.25 L166.31,488.35 L167.06,488.35 L167.06,488.44 L167.81,488.44 L167.81,488.53 L168.56,488.53 L168.56,488.62 L169.32,488.62 L169.32,488.71 L170.07,488.71 L170.07,488.8 L170.82,488.8 L170.82,488.89 L171.57,488.89 L171.57,488.98 L172.32,488.98 L172.32,489.07 L173.07,489.07 L173.07,489.17 L173.82,489.17 L173.82,489.26 L174.57,489.26 L174.57,489.35 L175.32,489.35 L175.32,489.44 L176.08,489.44 L176.08,489.53 L176.83,489.53 L176.83,489.62 L177.58,489.62 L177.58,489.71 L178.33,489.71 L178.33,489.8 L179.08,489.8 L179.08,489.9 L179.83,489.9 L179.83,489.99 L180.58,489.99 L180.58,490.09 L181.33,490.09 L181.33,490.19 L182.09,490.19 L182.09,490.28 L182.84,490.28 L182.84,490.38 L183.59,490.38 L183.59,490.48 L184.34,490.48 L184.34,490.58 L185.09,490.58 L185.09,490.67 L185.84,490.67 L185.84,490.77 L186.59,490.77 L186.59,490.87 L187.34,490.87 L187.34,490.96 L188.1,490.96 L188.1,491.06 L188.85,491.06 L188.85,491.16 L189.6,491.16 L189.6,491.25 L190.35,491.25 L190.35,491.35 L191.1,491.35 L191.1,491.45 L191.85,491.45 L191.85,491.54 L192.6,491.54 L192.6,491.64 L193.35,491.64 L193.35,491.74 L194.1,491.74 L194.1,491.82 L194.86,491.82 L194.86,491.89 L195.61,491.89 L195.61,491.96 L196.36,491.96 L196.36,492.03 L197.11,492.03 L197.11,492.11 L197.86,492.11 L197.86,492.18 L198.61,492.18 L198.61,492.25 L199.36,492.25 L199.36,492.32 L200.11,492.32 L200.11,492.39 L200.87,492.39 L200.87,492.46 L201.62,492.46 L201.62,492.54 L202.37,492.54 L202.37,492.61 L203.12,492.61 L203.12,492.68 L203.87,492.68 L203.87,492.75 L204.62,492.75 L204.62,492.82 L205.37,492.82 L205.37,492.89 L206.12,492.89 L206.12,492.96 L206.88,492.96 L206.88,493.04 L207.63,493.04 L207.63,493.11 L208.38,493.11 L208.38,493.18 L209.13,493.18 L209.13,493.27 L209.88,493.27 L209.88,493.36 L210.63,493.36 L210.63,493.45 L211.38,493.45 L211.38,493.54 L212.13,493.54 L212.13,493.63 L212.88,493.63 L212.88,493.72 L213.64,493.72 L213.64,493.81 L214.39,493.81 L214.39,493.9 L215.14,493.9 L215.14,494 L215.89,494 L215.89,494.09 L216.64,494.09 L216.64,494.18 L217.39,494.18 L217.39,494.27 L218.14,494.27 L218.14,494.36 L218.89,494.36 L218.89,494.45 L219.65,494.45 L219.65,494.54 L220.4,494.54 L220.4,494.63 L221.15,494.63 L221.15,494.72 L221.9,494.72 L221.9,494.81 L222.65,494.81 L222.65,494.9 L223.4,494.9 L223.4,494.98 L224.15,494.98 L224.15,495.04 L224.9,495.04 L224.9,495.1 L225.66,495.1 L225.66,495.15 L226.41,495.15 L226.41,495.21 L227.16,495.21 L227.16,495.27 L227.91,495.27 L227.91,495.33 L228.66,495.33 L228.66,495.39 L229.41,495.39 L229.41,495.44 L230.16,495.44 L230.16,495.5 L230.91,495.5 L230.91,495.56 L231.67,495.56 L231.67,495.62 L232.42,495.62 L232.42,495.68 L233.17,495.68 L233.17,495.74 L233.92,495.74 L233.92,495.79 L234.67,495.79 L234.67,495.85 L235.42,495.85 L235.42,495.9 L236.17,495.9 L236.17,495.95 L236.92,495.95 L236.92,495.99 L237.67,495.99 L237.67,496.04 L238.43,496.04 L238.43,496.09 L239.18,496.09 L239.18,496.13 L239.93,496.13 L239.93,496.18 L240.68,496.18 L240.68,496.23 L241.43,496.23 L241.43,496.27 L242.18,496.27 L242.18,496.32 L242.93,496.32 L242.93,496.37 L243.68,496.37 L243.68,496.41 L244.44,496.41 L244.44,496.46 L245.19,496.46 L245.19,496.51 L245.94,496.51 L245.94,496.55 L246.69,496.55 L246.69,496.6 L247.44,496.6 L247.44,496.65 L248.19,496.65 L248.19,496.69 L248.94,496.69 L248.94,496.74 L249.69,496.74 L249.69,496.82 L250.45,496.82 L250.45,496.9 L251.2,496.9 L251.2,496.98 L251.95,496.98 L251.95,497.06 L252.7,497.06 L252.7,497.13 L253.45,497.13 L253.45,497.21 L254.2,497.21 L254.2,497.29 L254.95,497.29 L254.95,497.37 L255.7,497.37 L255.7,497.45 L256.45,497.45 L256.45,497.53 L257.21,497.53 L257.21,497.6 L257.96,497.6 L257.96,497.68 L258.71,497.68 L258.71,497.76 L259.46,497.76 L259.46,497.84 L260.21,497.84 L260.21,497.92 L260.96,497.92 L260.96,498 L261.71,498 L261.71,498.08 L262.46,498.08 L262.46,498.15 L263.22,498.15 L263.22,498.23 L263.97,498.23 L263.97,498.31 L264.72,498.31 L264.72,498.39 L265.47,498.39 L265.47,498.47 L266.22,498.47 L266.22,498.55 L266.97,498.55 L266.97,498.62 L267.72,498.62 L267.72,498.7 L268.47,498.7 L268.47,498.78 L269.23,498.78 L269.23,498.86 L269.98,498.86 L269.98,498.94 L270.73,498.94 L270.73,499.02 L271.48,499.02 L271.48,499.09 L272.23,499.09 L272.23,499.17 L272.98,499.17 L272.98,499.25 L273.73,499.25 L273.73,499.33 L274.48,499.33 L274.48,499.41 L275.23,499.41 L275.23,499.48 L275.99,499.48 L275.99,499.56 L276.74,499.56 L276.74,499.64 L277.49,499.64 L277.49,499.71 L278.24,499.71 L278.24,499.79 L278.99,499.79 L278.99,499.87 L279.74,499.87 L279.74,499.94 L280.49,499.94 L280.49,500.02 L281.24,500.02 L281.24,500.1 L282,500.1 L282,500.17 L282.75,500.17 L282.75,500.25 L283.5,500.25 L283.5,500.33 L284.25,500.33 L284.25,500.4 L285,500.4 L285,500.48 L285.75,500.48 L285.75,500.56 L286.5,500.56 L286.5,500.63 L287.25,500.63 L287.25,500.71 L288.01,500.71 L288.01,500.79 L288.76,500.79 L288.76,500.86 L289.51,500.86 L289.51,500.94 L290.26,500.94 L290.26,500.98 L291.01,500.98 L291.01,501.01 L291.76,501.01 L291.76,501.04 L292.51,501.04 L292.51,501.08 L293.26,501.08 L293.26,501.11 L294.02,501.11 L294.02,501.14 L294.77,501.14 L294.77,501.17 L295.52,501.17 L295.52,501.21 L296.27,501.21 L296.27,501.24 L297.02,501.24 L297.02,501.27 L297.77,501.27 L297.77,501.31 L298.52,501.31 L298.52,501.34 L299.27,501.34 L299.27,501.37 L300.02,501.37 L300.02,501.41 L300.78,501.41 L300.78,501.44 L301.53,501.44 L301.53,501.47 L302.28,501.47 L302.28,501.51 L303.03,501.51 L303.03,501.54 L303.78,501.54 L303.78,501.57 L304.53,501.57 L304.53,501.61 L305.28,501.61 L305.28,501.64 L306.03,501.64 L306.03,501.67 L306.79,501.67 L306.79,501.71 L307.54,501.71 L307.54,501.74 L308.29,501.74 L308.29,501.77 L309.04,501.77 L309.04,501.81 L309.79,501.81 L309.79,501.84 L310.54,501.84 L310.54,501.87 L311.29,501.87 L311.29,501.91 L312.04,501.91 L312.04,501.94 L312.8,501.94 L312.8,501.97 L313.55,501.97 L313.55,502.01 L314.3,502.01 L314.3,502.04 L315.05,502.04 L315.05,502.07 L315.8,502.07 L315.8,520.3Z" fill="#8B0000"/>
<rect x="65.55" y="409.38" width="0.9" height="110.92" fill="#FFFF00"/>
<rect x="66.4" y="432.56" width="0.7" height="87.74" fill="#FFFF00"/>
<rect x="68.9" y="436.74" width="1.8" height="83.56" fill="#4f8a00"/>
<rect x="70.8" y="440.21" width="1.39" height="80.09" fill="#FFFF00"/>
<rect x="72.3" y="444.03" width="1.9" height="76.27" fill="#E08A08"/>
<rect x="74.2" y="448.27" width="1.8" height="72.03" fill="#4f8a00"/>
<rect x="76" y="451.82" width="1.5" height="68.48" fill="#E08A08"/>
<rect x="80.08" y="461.06" width="2.44" height="59.24" fill="#00FF00"/>
<rect x="85.5" y="465.98" width="1.5" height="54.32" fill="#00008B"/>
<rect x="90.5" y="469.46" width="1.5" height="50.84" fill="#00008B"/>
<rect x="93.1" y="470.4" width="1.4" height="49.9" fill="#00008B"/>
<rect x="96.7" y="471.97" width="1.31" height="48.33" fill="#FFFF00"/>
<rect x="104" y="476.58" width="2.1" height="43.72" fill="#E08A08"/>
<rect x="106.8" y="477.63" width="3.4" height="42.67" fill="#E08A08"/>
<rect x="115.5" y="479.61" width="1.4" height="40.69" fill="#00008B"/>
<rect x="121.9" y="480.92" width="1.8" height="39.38" fill="#E08A08"/>
<rect x="125.4" y="481.62" width="1.6" height="38.68" fill="#00008B"/>
<rect x="130" y="482.57" width="1.5" height="37.73" fill="#E08A08"/>
<rect x="138" y="484.19" width="1.8" height="36.11" fill="#00008B"/>
<rect x="148" y="485.97" width="1.2" height="34.33" fill="#00008B"/>
<rect x="154.6" y="486.89" width="1.3" height="33.41" fill="#E08A08"/>
<rect x="162.12" y="487.87" width="1.57" height="32.43" fill="#00FF00"/>
<rect x="165.7" y="488.3" width="1.2" height="32" fill="#00008B"/>
<rect x="168.6" y="488.67" width="1.5" height="31.63" fill="#6aa808"/>
<rect x="170.92" y="488.95" width="1.57" height="31.35" fill="#00FF00"/>
<rect x="173.6" y="489.24" width="0.9" height="31.06" fill="#6aa808"/>
<rect x="182.2" y="490.42" width="2.7" height="29.88" fill="#00008B"/>
<rect x="189.3" y="491.26" width="1.5" height="29.04" fill="#00008B"/>
<rect x="195.9" y="492.02" width="1.3" height="28.28" fill="#6aa808"/>
<rect x="198.4" y="492.26" width="1.5" height="28.04" fill="#00008B"/>
<rect x="201.4" y="492.55" width="1.4" height="27.75" fill="#00008B"/>
<rect x="204.8" y="492.86" width="1.3" height="27.44" fill="#E08A08"/>
<rect x="211" y="493.54" width="1.4" height="26.76" fill="#6aa808"/>
<rect x="212.9" y="493.78" width="1.7" height="26.52" fill="#00008B"/>
<rect x="223.2" y="494.97" width="1" height="25.33" fill="#00008B"/>
<rect x="227.5" y="495.33" width="1.5" height="24.97" fill="#00008B"/>
<rect x="229.3" y="495.45" width="1" height="24.85" fill="#00008B" fill-opacity="0.8"/>
<rect x="231" y="495.57" width="0.8" height="24.73" fill="#00008B" fill-opacity="0.8"/>
<rect x="234.7" y="495.87" width="1.3" height="24.43" fill="#00008B"/>
<rect x="239.9" y="496.2" width="1.6" height="24.1" fill="#6aa808"/>
<rect x="254.7" y="497.36" width="1.1" height="22.94" fill="#00008B"/>
<rect x="266.9" y="498.65" width="1.3" height="21.65" fill="#00008B"/>
<rect x="272" y="499.21" width="2" height="21.09" fill="#00008B"/>
<rect x="279.3" y="499.91" width="1" height="20.39" fill="#3c0070"/>
<rect x="286.3" y="500.64" width="1.2" height="19.66" fill="#00008B"/>
<rect x="289.1" y="500.93" width="1.3" height="19.37" fill="#6aa808"/>
<rect x="290.7" y="501" width="1" height="19.3" fill="#00008B" fill-opacity="0.8"/>
<rect x="292.4" y="501.07" width="0.8" height="19.23" fill="#00008B" fill-opacity="0.8"/>
<rect x="294.1" y="501.14" width="0.7" height="19.16" fill="#00008B" fill-opacity="0.8"/>
<rect x="295.7" y="501.23" width="1.39" height="19.07" fill="#00FF00"/>
<rect x="298.3" y="501.34" width="1.3" height="18.96" fill="#00008B"/>
<rect x="301.2" y="501.48" width="1.7" height="18.82" fill="#00008B"/>
<rect x="304.6" y="501.62" width="1.39" height="18.68" fill="#00FF00"/>
<rect x="306.6" y="501.72" width="1.5" height="18.58" fill="#00008B"/>
<line x1="53.4" y1="502.34" x2="328.45" y2="502.34" stroke="#000" stroke-width="2.05" stroke-dasharray="7.5 3.56"/>
<rect x="53.4" y="392.95" width="275.05" height="127.35" fill="none" stroke="#000" stroke-width="1.1"/>
<line x1="48.1" y1="392.95" x2="53.4" y2="392.95" stroke="#000" stroke-width="1.1"/>
<text x="43.3" y="397.15" text-anchor="end">1.00</text>
<line x1="48.1" y1="424.79" x2="53.4" y2="424.79" stroke="#000" stroke-width="1.1"/>
<text x="43.3" y="428.99" text-anchor="end">0.75</text>
<line x1="48.1" y1="456.62" x2="53.4" y2="456.62" stroke="#000" stroke-width="1.1"/>
<text x="43.3" y="460.82" text-anchor="end">0.50</text>
<line x1="48.1" y1="488.46" x2="53.4" y2="488.46" stroke="#000" stroke-width="1.1"/>
<text x="43.3" y="492.66" text-anchor="end">0.25</text>
<line x1="48.1" y1="520.3" x2="53.4" y2="520.3" stroke="#000" stroke-width="1.1"/>
<text x="43.3" y="524.5" text-anchor="end">0.00</text>
<line x1="66.28" y1="520.3" x2="66.28" y2="525.6" stroke="#000" stroke-width="1.1"/>
<text x="66.28" y="538.7" text-anchor="middle">0</text>
<line x1="141.37" y1="520.3" x2="141.37" y2="525.6" stroke="#000" stroke-width="1.1"/>
<text x="141.37" y="538.7" text-anchor="middle">100</text>
<line x1="216.46" y1="520.3" x2="216.46" y2="525.6" stroke="#000" stroke-width="1.1"/>
<text x="216.46" y="538.7" text-anchor="middle">200</text>
<line x1="291.54" y1="520.3" x2="291.54" y2="525.6" stroke="#000" stroke-width="1.1"/>
<text x="291.54" y="538.7" text-anchor="middle">300</text>
<text transform="translate(9.9,456.62) rotate(-90)" text-anchor="middle">Binding Intensity</text>
<text x="181" y="384.2" text-anchor="middle">PS</text>
<g class="tb">
<rect x="198.25" y="397.5" width="125.4" height="75.9" fill="#fff" stroke="#000" stroke-width="1"/>
<line x1="198.25" y1="410" x2="323.65" y2="410" stroke="#000" stroke-width="1"/>
<line x1="198.25" y1="422.7" x2="323.65" y2="422.7" stroke="#000" stroke-width="1"/>
<line x1="198.25" y1="435.4" x2="323.65" y2="435.4" stroke="#000" stroke-width="1"/>
<line x1="198.25" y1="448.1" x2="323.65" y2="448.1" stroke="#000" stroke-width="1"/>
<line x1="198.25" y1="460.9" x2="323.65" y2="460.9" stroke="#000" stroke-width="1"/>
<line x1="238.55" y1="397.5" x2="238.55" y2="473.4" stroke="#000" stroke-width="1"/>
<line x1="275.95" y1="397.5" x2="275.95" y2="473.4" stroke="#000" stroke-width="1"/>
<text transform="translate(200.15,406.7) scale(1.01,1)">Family</text>
<text transform="translate(240.75,406.7) scale(1.015,1)">Binders</text>
<text transform="translate(277.45,406.7) scale(1.08,1)">% of total</text>
<text transform="translate(200.15,419.4) scale(1.01,1)">CBM2</text>
<text transform="translate(274.25,420) scale(0.97,1)" text-anchor="end">258</text>
<text transform="translate(322.45,420.6) scale(0.97,1)" text-anchor="end">49</text>
<text transform="translate(200.15,432.1) scale(1.01,1)">CBM3</text>
<text transform="translate(274.25,432.7) scale(0.97,1)" text-anchor="end">46</text>
<text transform="translate(322.45,433.3) scale(0.97,1)" text-anchor="end">30</text>
<text transform="translate(200.15,444.8) scale(1.01,1)">CBM10</text>
<text transform="translate(274.25,445.4) scale(0.97,1)" text-anchor="end">13</text>
<text transform="translate(322.45,446) scale(0.97,1)" text-anchor="end">43</text>
<text transform="translate(200.15,457.6) scale(1.01,1)">CBM64</text>
<text transform="translate(274.25,458.2) scale(0.97,1)" text-anchor="end">8</text>
<text transform="translate(322.45,458.8) scale(0.97,1)" text-anchor="end">57</text>
<text transform="translate(200.15,469.9) scale(1.06,1)">Total</text>
<text transform="translate(274.25,470.5) scale(0.97,1)" text-anchor="end">325</text>
<text transform="translate(322.45,471.1) scale(0.97,1)" text-anchor="end">45</text>
</g>
</g>
<g><!-- Starch -->
<path d="M411.9,520.3 L411.9,459.68 L412.9,459.68 L412.9,467.32 L413.91,467.32 L413.91,468.02 L414.91,468.02 L414.91,471.64 L415.92,471.64 L415.92,475.64 L416.92,475.64 L416.92,478.02 L417.92,478.02 L417.92,480.05 L418.93,480.05 L418.93,481.49 L419.93,481.49 L419.93,482.17 L420.94,482.17 L420.94,482.85 L421.94,482.85 L421.94,483.53 L422.94,483.53 L422.94,484.2 L423.95,484.2 L423.95,484.87 L424.95,484.87 L424.95,485.54 L425.96,485.54 L425.96,486.29 L426.96,486.29 L426.96,487.24 L427.96,487.24 L427.96,488.18 L428.97,488.18 L428.97,489.03 L429.97,489.03 L429.97,489.37 L430.98,489.37 L430.98,489.71 L431.98,489.71 L431.98,490.06 L432.98,490.06 L432.98,490.4 L433.99,490.4 L433.99,490.74 L434.99,490.74 L434.99,491.06 L436,491.06 L436,491.37 L437,491.37 L437,491.67 L438,491.67 L438,491.97 L439.01,491.97 L439.01,492.28 L440.01,492.28 L440.01,492.58 L441.02,492.58 L441.02,492.88 L442.02,492.88 L442.02,493.19 L443.02,493.19 L443.02,493.42 L444.03,493.42 L444.03,493.61 L445.03,493.61 L445.03,493.81 L446.04,493.81 L446.04,494 L447.04,494 L447.04,494.19 L448.04,494.19 L448.04,494.38 L449.05,494.38 L449.05,494.57 L450.05,494.57 L450.05,494.76 L451.06,494.76 L451.06,494.93 L452.06,494.93 L452.06,495.08 L453.06,495.08 L453.06,495.22 L454.07,495.22 L454.07,495.37 L455.07,495.37 L455.07,495.52 L456.08,495.52 L456.08,495.67 L457.08,495.67 L457.08,495.82 L458.08,495.82 L458.08,495.97 L459.09,495.97 L459.09,496.11 L460.09,496.11 L460.09,496.26 L461.1,496.26 L461.1,496.41 L462.1,496.41 L462.1,496.54 L463.1,496.54 L463.1,496.64 L464.11,496.64 L464.11,496.74 L465.11,496.74 L465.11,496.84 L466.12,496.84 L466.12,496.94 L467.12,496.94 L467.12,497.04 L468.12,497.04 L468.12,497.13 L469.13,497.13 L469.13,497.23 L470.13,497.23 L470.13,497.33 L471.14,497.33 L471.14,497.43 L472.14,497.43 L472.14,497.53 L473.14,497.53 L473.14,497.63 L474.15,497.63 L474.15,497.73 L475.15,497.73 L475.15,497.84 L476.16,497.84 L476.16,497.96 L477.16,497.96 L477.16,498.07 L478.17,498.07 L478.17,498.19 L479.17,498.19 L479.17,498.3 L480.17,498.3 L480.17,498.41 L481.18,498.41 L481.18,498.53 L482.18,498.53 L482.18,498.64 L483.19,498.64 L483.19,498.76 L484.19,498.76 L484.19,498.87 L485.19,498.87 L485.19,498.95 L486.2,498.95 L486.2,499.01 L487.2,499.01 L487.2,499.08 L488.21,499.08 L488.21,499.14 L489.21,499.14 L489.21,499.21 L490.21,499.21 L490.21,499.27 L491.22,499.27 L491.22,499.33 L492.22,499.33 L492.22,499.4 L493.23,499.4 L493.23,499.46 L494.23,499.46 L494.23,499.52 L495.23,499.52 L495.23,499.62 L496.24,499.62 L496.24,499.73 L497.24,499.73 L497.24,499.83 L498.25,499.83 L498.25,499.94 L499.25,499.94 L499.25,500.04 L500.25,500.04 L500.25,500.15 L501.26,500.15 L501.26,500.25 L502.26,500.25 L502.26,500.36 L503.27,500.36 L503.27,500.46 L504.27,500.46 L504.27,500.57 L505.27,500.57 L505.27,500.68 L506.28,500.68 L506.28,500.78 L507.28,500.78 L507.28,500.87 L508.29,500.87 L508.29,500.96 L509.29,500.96 L509.29,501.05 L510.29,501.05 L510.29,501.13 L511.3,501.13 L511.3,501.22 L512.3,501.22 L512.3,501.31 L513.31,501.31 L513.31,501.4 L514.31,501.4 L514.31,501.48 L515.31,501.48 L515.31,501.57 L516.32,501.57 L516.32,501.66 L517.32,501.66 L517.32,501.74 L518.33,501.74 L518.33,501.83 L519.33,501.83 L519.33,501.92 L520.33,501.92 L520.33,502 L521.34,502 L521.34,502.09 L522.34,502.09 L522.34,502.18 L523.35,502.18 L523.35,502.26 L524.35,502.26 L524.35,502.35 L525.35,502.35 L525.35,502.44 L526.36,502.44 L526.36,502.52 L527.36,502.52 L527.36,502.61 L528.37,502.61 L528.37,502.7 L529.37,502.7 L529.37,502.77 L530.37,502.77 L530.37,502.83 L531.38,502.83 L531.38,502.89 L532.38,502.89 L532.38,502.96 L533.39,502.96 L533.39,503.02 L534.39,503.02 L534.39,503.08 L535.39,503.08 L535.39,503.15 L536.4,503.15 L536.4,503.21 L537.4,503.21 L537.4,503.27 L538.41,503.27 L538.41,503.34 L539.41,503.34 L539.41,503.4 L540.41,503.4 L540.41,503.46 L541.42,503.46 L541.42,503.53 L542.42,503.53 L542.42,503.59 L543.43,503.59 L543.43,503.66 L544.43,503.66 L544.43,503.72 L545.43,503.72 L545.43,503.78 L546.44,503.78 L546.44,503.85 L547.44,503.85 L547.44,503.91 L548.45,503.91 L548.45,503.97 L549.45,503.97 L549.45,504.04 L550.45,504.04 L550.45,504.1 L551.46,504.1 L551.46,504.16 L552.46,504.16 L552.46,504.21 L553.47,504.21 L553.47,504.26 L554.47,504.26 L554.47,504.31 L555.47,504.31 L555.47,504.36 L556.48,504.36 L556.48,504.42 L557.48,504.42 L557.48,504.47 L558.49,504.47 L558.49,504.52 L559.49,504.52 L559.49,504.57 L560.49,504.57 L560.49,504.62 L561.5,504.62 L561.5,504.68 L562.5,504.68 L562.5,504.73 L563.51,504.73 L563.51,504.78 L564.51,504.78 L564.51,504.83 L565.51,504.83 L565.51,504.88 L566.52,504.88 L566.52,504.94 L567.52,504.94 L567.52,504.99 L568.53,504.99 L568.53,505.04 L569.53,505.04 L569.53,505.09 L570.53,505.09 L570.53,505.14 L571.54,505.14 L571.54,505.2 L572.54,505.2 L572.54,505.25 L573.55,505.25 L573.55,505.29 L574.55,505.29 L574.55,505.32 L575.55,505.32 L575.55,505.36 L576.56,505.36 L576.56,505.39 L577.56,505.39 L577.56,505.42 L578.57,505.42 L578.57,505.46 L579.57,505.46 L579.57,505.49 L580.57,505.49 L580.57,505.52 L581.58,505.52 L581.58,505.56 L582.58,505.56 L582.58,505.59 L583.59,505.59 L583.59,505.62 L584.59,505.62 L584.59,505.66 L585.59,505.66 L585.59,505.71 L586.6,505.71 L586.6,505.76 L587.6,505.76 L587.6,505.81 L588.61,505.81 L588.61,505.86 L589.61,505.86 L589.61,505.91 L590.61,505.91 L590.61,505.96 L591.62,505.96 L591.62,506.01 L592.62,506.01 L592.62,506.06 L593.63,506.06 L593.63,506.11 L594.63,506.11 L594.63,506.16 L595.63,506.16 L595.63,506.21 L596.64,506.21 L596.64,506.26 L597.64,506.26 L597.64,506.31 L598.65,506.31 L598.65,506.36 L599.65,506.36 L599.65,506.41 L600.66,506.41 L600.66,506.46 L601.66,506.46 L601.66,506.51 L602.66,506.51 L602.66,506.56 L603.67,506.56 L603.67,506.61 L604.67,506.61 L604.67,506.66 L605.68,506.66 L605.68,506.71 L606.68,506.71 L606.68,506.76 L607.68,506.76 L607.68,506.81 L608.69,506.81 L608.69,506.86 L609.69,506.86 L609.69,506.91 L610.7,506.91 L610.7,506.96 L611.7,506.96 L611.7,507.02 L612.7,507.02 L612.7,507.07 L613.71,507.07 L613.71,507.12 L614.71,507.12 L614.71,507.17 L615.72,507.17 L615.72,507.22 L616.72,507.22 L616.72,507.27 L617.72,507.27 L617.72,507.32 L618.73,507.32 L618.73,507.37 L619.73,507.37 L619.73,507.42 L620.74,507.42 L620.74,507.46 L621.74,507.46 L621.74,507.49 L622.74,507.49 L622.74,507.53 L623.75,507.53 L623.75,507.56 L624.75,507.56 L624.75,507.59 L625.76,507.59 L625.76,507.63 L626.76,507.63 L626.76,507.66 L627.76,507.66 L627.76,507.69 L628.77,507.69 L628.77,507.73 L629.77,507.73 L629.77,507.76 L630.78,507.76 L630.78,507.8 L631.78,507.8 L631.78,507.83 L632.78,507.83 L632.78,507.86 L633.79,507.86 L633.79,507.9 L634.79,507.9 L634.79,507.93 L635.8,507.93 L635.8,507.96 L636.8,507.96 L636.8,508 L637.8,508 L637.8,508.03 L638.81,508.03 L638.81,508.06 L639.81,508.06 L639.81,508.1 L640.82,508.1 L640.82,508.13 L641.82,508.13 L641.82,508.17 L642.82,508.17 L642.82,508.2 L643.83,508.2 L643.83,508.23 L644.83,508.23 L644.83,508.25 L645.84,508.25 L645.84,508.28 L646.84,508.28 L646.84,508.31 L647.84,508.31 L647.84,508.34 L648.85,508.34 L648.85,508.37 L649.85,508.37 L649.85,508.39 L650.86,508.39 L650.86,508.42 L651.86,508.42 L651.86,508.45 L652.86,508.45 L652.86,508.48 L653.87,508.48 L653.87,508.5 L654.87,508.5 L654.87,508.53 L655.88,508.53 L655.88,508.56 L656.88,508.56 L656.88,508.59 L657.88,508.59 L657.88,508.61 L658.89,508.61 L658.89,508.64 L659.89,508.64 L659.89,508.67 L660.9,508.67 L660.9,508.7 L661.9,508.7 L661.9,520.3Z" fill="#8B0000"/>
<rect x="413" y="467.32" width="1.39" height="52.98" fill="#FFFF00"/>
<rect x="419.08" y="481.61" width="1.04" height="38.69" fill="#00FF00"/>
<rect x="420.28" y="482.42" width="1.04" height="37.88" fill="#FFFF00"/>
<rect x="422.28" y="483.77" width="1.04" height="36.53" fill="#00FF00"/>
<rect x="424.67" y="485.34" width="0.96" height="34.96" fill="#FFFF00"/>
<rect x="426.7" y="487.18" width="1.39" height="33.12" fill="#FFFF00"/>
<rect x="433.8" y="490.69" width="1.1" height="29.61" fill="#00008B"/>
<rect x="435.8" y="491.37" width="1.39" height="28.93" fill="#FFFF00"/>
<rect x="441.08" y="492.92" width="1.13" height="27.38" fill="#FFFF00"/>
<rect x="442.37" y="493.29" width="0.96" height="27.01" fill="#00FF00"/>
<rect x="449.89" y="494.75" width="1.22" height="25.55" fill="#00FF00"/>
<rect x="453.8" y="495.35" width="1.3" height="24.95" fill="#00008B"/>
<rect x="462.9" y="496.63" width="1.3" height="23.67" fill="#00008B"/>
<rect x="464.88" y="496.82" width="1.13" height="23.48" fill="#00FF00"/>
<rect x="466.9" y="497.03" width="1.3" height="23.27" fill="#00008B"/>
<rect x="469.8" y="497.31" width="1.1" height="22.99" fill="#00008B"/>
<rect x="472.9" y="497.63" width="1.39" height="22.67" fill="#FFFF00"/>
<rect x="475.4" y="497.9" width="1.5" height="22.4" fill="#00008B"/>
<rect x="480.1" y="498.42" width="1.2" height="21.88" fill="#00008B"/>
<rect x="483.7" y="498.82" width="1.1" height="21.48" fill="#00008B"/>
<rect x="489.28" y="499.21" width="1.13" height="21.09" fill="#FFFF00"/>
<rect x="490.55" y="499.28" width="0.7" height="21.02" fill="#00FF00"/>
<rect x="492.9" y="499.46" width="1.7" height="20.84" fill="#00008B"/>
<rect x="497.29" y="499.85" width="1.22" height="20.45" fill="#00FF00"/>
<rect x="499.08" y="500.03" width="1.04" height="20.27" fill="#FFFF00"/>
<rect x="511.3" y="501.24" width="1.4" height="19.06" fill="#00008B"/>
<rect x="516" y="501.65" width="1.4" height="18.65" fill="#00008B"/>
<rect x="523.6" y="502.31" width="1.5" height="17.99" fill="#00008B"/>
<rect x="527.1" y="502.6" width="1.31" height="17.7" fill="#00FF00"/>
<rect x="531" y="502.89" width="1.5" height="17.41" fill="#00008B"/>
<rect x="535.6" y="503.17" width="1.3" height="17.13" fill="#00008B"/>
<rect x="537.47" y="503.28" width="0.96" height="17.02" fill="#00FF00"/>
<rect x="545.28" y="503.77" width="1.04" height="16.53" fill="#FFFF00"/>
<rect x="548.7" y="504.02" width="1.9" height="16.28" fill="#00008B"/>
<rect x="552.2" y="504.2" width="1.31" height="16.1" fill="#00FF00"/>
<rect x="560.2" y="504.62" width="1.5" height="15.68" fill="#00008B"/>
<rect x="563.9" y="504.81" width="1.5" height="15.49" fill="#00008B"/>
<rect x="569.8" y="505.11" width="1" height="15.19" fill="#00008B"/>
<rect x="575.7" y="505.4" width="3.5" height="14.9" fill="#00008B"/>
<rect x="581.2" y="505.56" width="1.7" height="14.74" fill="#00008B"/>
<rect x="586.03" y="505.75" width="1.74" height="14.55" fill="#FFFF00"/>
<rect x="590.2" y="505.94" width="1.2" height="14.36" fill="#00008B"/>
<rect x="591.78" y="506.02" width="1.04" height="14.28" fill="#00FF00"/>
<rect x="595.5" y="506.26" width="3.5" height="14.04" fill="#00008B"/>
<rect x="600.57" y="506.45" width="0.96" height="13.85" fill="#00FF00"/>
<rect x="602.68" y="506.57" width="1.13" height="13.73" fill="#00FF00"/>
<rect x="607.7" y="506.83" width="1.5" height="13.47" fill="#00008B"/>
<rect x="610.7" y="506.97" width="1.2" height="13.33" fill="#00008B"/>
<rect x="620.98" y="507.47" width="1.04" height="12.83" fill="#00FF00"/>
<rect x="627.78" y="507.7" width="1.04" height="12.6" fill="#FFFF00"/>
<rect x="637" y="508.02" width="1.8" height="12.28" fill="#00008B"/>
<rect x="642.6" y="508.19" width="1.1" height="12.11" fill="#00008B"/>
<rect x="644.6" y="508.25" width="1.2" height="12.05" fill="#00008B"/>
<rect x="651.7" y="508.46" width="2.3" height="11.84" fill="#00008B"/>
<rect x="655.5" y="508.56" width="1.5" height="11.74" fill="#00008B"/>
<line x1="399.45" y1="509.22" x2="674.5" y2="509.22" stroke="#000" stroke-width="2.05" stroke-dasharray="7.5 3.56"/>
<rect x="399.45" y="392.95" width="275.05" height="127.35" fill="none" stroke="#000" stroke-width="1.1"/>
<line x1="394.15" y1="392.95" x2="399.45" y2="392.95" stroke="#000" stroke-width="1.1"/>
<text x="389.35" y="397.15" text-anchor="end">1.00</text>
<line x1="394.15" y1="424.79" x2="399.45" y2="424.79" stroke="#000" stroke-width="1.1"/>
<text x="389.35" y="428.99" text-anchor="end">0.75</text>
<line x1="394.15" y1="456.62" x2="399.45" y2="456.62" stroke="#000" stroke-width="1.1"/>
<text x="389.35" y="460.82" text-anchor="end">0.50</text>
<line x1="394.15" y1="488.46" x2="399.45" y2="488.46" stroke="#000" stroke-width="1.1"/>
<text x="389.35" y="492.66" text-anchor="end">0.25</text>
<line x1="394.15" y1="520.3" x2="399.45" y2="520.3" stroke="#000" stroke-width="1.1"/>
<text x="389.35" y="524.5" text-anchor="end">0.00</text>
<line x1="412.45" y1="520.3" x2="412.45" y2="525.6" stroke="#000" stroke-width="1.1"/>
<text x="412.45" y="538.7" text-anchor="middle">0</text>
<line x1="462.66" y1="520.3" x2="462.66" y2="525.6" stroke="#000" stroke-width="1.1"/>
<text x="462.66" y="538.7" text-anchor="middle">50</text>
<line x1="512.87" y1="520.3" x2="512.87" y2="525.6" stroke="#000" stroke-width="1.1"/>
<text x="512.87" y="538.7" text-anchor="middle">100</text>
<line x1="563.08" y1="520.3" x2="563.08" y2="525.6" stroke="#000" stroke-width="1.1"/>
<text x="563.08" y="538.7" text-anchor="middle">150</text>
<line x1="613.29" y1="520.3" x2="613.29" y2="525.6" stroke="#000" stroke-width="1.1"/>
<text x="613.29" y="538.7" text-anchor="middle">200</text>
<line x1="663.5" y1="520.3" x2="663.5" y2="525.6" stroke="#000" stroke-width="1.1"/>
<text x="663.5" y="538.7" text-anchor="middle">250</text>
<text transform="translate(356.45,456.62) rotate(-90)" text-anchor="middle">Binding Intensity</text>
<text x="537" y="384.2" text-anchor="middle">Starch</text>
<g class="tb">
<rect x="545.35" y="397.5" width="125.4" height="75.9" fill="#fff" stroke="#000" stroke-width="1"/>
<line x1="545.35" y1="410" x2="670.75" y2="410" stroke="#000" stroke-width="1"/>
<line x1="545.35" y1="422.7" x2="670.75" y2="422.7" stroke="#000" stroke-width="1"/>
<line x1="545.35" y1="435.4" x2="670.75" y2="435.4" stroke="#000" stroke-width="1"/>
<line x1="545.35" y1="448.1" x2="670.75" y2="448.1" stroke="#000" stroke-width="1"/>
<line x1="545.35" y1="460.9" x2="670.75" y2="460.9" stroke="#000" stroke-width="1"/>
<line x1="585.65" y1="397.5" x2="585.65" y2="473.4" stroke="#000" stroke-width="1"/>
<line x1="623.05" y1="397.5" x2="623.05" y2="473.4" stroke="#000" stroke-width="1"/>
<text transform="translate(547.25,406.7) scale(1.01,1)">Family</text>
<text transform="translate(587.85,406.7) scale(1.015,1)">Binders</text>
<text transform="translate(624.55,406.7) scale(1.08,1)">% of total</text>
<text transform="translate(547.25,419.4) scale(1.01,1)">CBM2</text>
<text transform="translate(621.35,420) scale(0.97,1)" text-anchor="end">177</text>
<text transform="translate(669.55,420.6) scale(0.97,1)" text-anchor="end">33</text>
<text transform="translate(547.25,432.1) scale(1.01,1)">CBM3</text>
<text transform="translate(621.35,432.7) scale(0.97,1)" text-anchor="end">46</text>
<text transform="translate(669.55,433.3) scale(0.97,1)" text-anchor="end">30</text>
<text transform="translate(547.25,444.8) scale(1.01,1)">CBM10</text>
<text transform="translate(621.35,445.4) scale(0.97,1)" text-anchor="end">14</text>
<text transform="translate(669.55,446) scale(0.97,1)" text-anchor="end">47</text>
<text transform="translate(547.25,457.6) scale(1.01,1)">CBM64</text>
<text transform="translate(621.35,458.2) scale(0.97,1)" text-anchor="end">12</text>
<text transform="translate(669.55,458.8) scale(0.97,1)" text-anchor="end">86</text>
<text transform="translate(547.25,469.9) scale(1.06,1)">Total</text>
<text transform="translate(621.35,470.5) scale(0.97,1)" text-anchor="end">249</text>
<text transform="translate(669.55,471.1) scale(0.97,1)" text-anchor="end">34</text>
</g>
</g>
<g><!-- legend -->
<rect x="178.7" y="551.3" width="10.3" height="9.9" fill="#8B0000"/>
<text x="192.4" y="560.1">CBM2</text>
<rect x="232.9" y="551.3" width="10.3" height="9.9" fill="#00008B"/>
<text x="247" y="560.1">CBM3</text>
<rect x="287.7" y="551.3" width="10.3" height="9.9" fill="#00FF00"/>
<text x="301.9" y="560.1">CBM10</text>
<rect x="351.2" y="551.3" width="10.3" height="9.9" fill="#FFFF00"/>
<text x="365.4" y="560.1">CBM64</text>
<line x1="412.7" y1="555.8" x2="441.5" y2="555.8" stroke="#000" stroke-width="1.45" stroke-dasharray="9.4 2.2"/>
<text x="448.8" y="560.1">Mean EGFP binding</text>
</g>
</svg></body></html>
